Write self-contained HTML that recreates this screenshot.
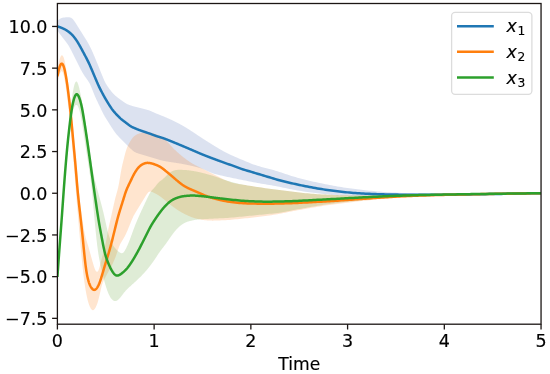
<!DOCTYPE html>
<html><head><meta charset="utf-8"><title>Time plot</title>
<style>
html,body{margin:0;padding:0;background:#fff;}
body{width:550px;height:374px;overflow:hidden;}
svg{display:block;}
.t{font-family:"DejaVu Sans","Liberation Sans",sans-serif;font-size:17.5px;fill:#000;stroke:#000;stroke-width:0.15px;}
.i{font-style:italic;}
.s{font-style:normal;font-size:12.25px;}
</style></head><body>
<svg width="550" height="374" viewBox="0 0 550 374">
<rect width="550" height="374" fill="#fff"/>
<defs><clipPath id="ax"><rect x="57.4" y="3.5" width="483.65" height="320.7"/></clipPath></defs>
<g clip-path="url(#ax)">
<path d="M57.40,21.07 L57.65,20.80 L57.90,20.55 L58.15,20.30 L58.40,20.06 L58.65,19.83 L58.90,19.62 L59.15,19.41 L59.40,19.22 L59.65,19.04 L59.90,18.87 L60.15,18.72 L60.40,18.57 L60.65,18.44 L60.90,18.32 L61.15,18.20 L61.40,18.10 L61.65,18.01 L61.90,17.93 L62.15,17.86 L62.40,17.79 L62.65,17.73 L62.90,17.68 L63.15,17.63 L63.40,17.59 L63.65,17.55 L63.90,17.51 L64.15,17.48 L64.40,17.45 L64.65,17.42 L64.90,17.40 L65.15,17.38 L65.40,17.35 L65.65,17.33 L65.90,17.31 L66.15,17.30 L66.40,17.28 L66.65,17.26 L66.90,17.25 L67.15,17.24 L67.40,17.23 L67.65,17.22 L67.90,17.22 L68.15,17.22 L68.40,17.23 L68.65,17.24 L68.90,17.25 L69.15,17.28 L69.40,17.31 L69.65,17.35 L69.90,17.40 L70.15,17.47 L70.40,17.54 L70.65,17.63 L70.90,17.73 L71.15,17.85 L71.40,17.99 L71.65,18.14 L71.90,18.32 L72.15,18.52 L72.40,18.74 L72.65,18.98 L72.90,19.24 L73.15,19.52 L73.40,19.81 L73.65,20.13 L73.90,20.46 L74.15,20.80 L74.40,21.16 L74.65,21.53 L74.90,21.90 L75.15,22.28 L75.40,22.67 L75.65,23.06 L75.90,23.45 L76.15,23.85 L76.40,24.24 L76.65,24.64 L76.90,25.04 L77.15,25.44 L77.40,25.84 L77.65,26.24 L77.90,26.64 L78.15,27.04 L78.40,27.44 L78.65,27.84 L78.90,28.24 L79.15,28.64 L79.40,29.04 L79.65,29.44 L79.90,29.84 L80.15,30.24 L80.40,30.63 L80.65,31.03 L80.90,31.43 L81.15,31.83 L81.40,32.22 L81.65,32.62 L81.90,33.02 L82.15,33.41 L82.40,33.81 L82.65,34.21 L82.90,34.60 L83.15,35.00 L83.40,35.39 L83.65,35.79 L83.90,36.19 L84.15,36.58 L84.40,36.98 L84.65,37.38 L84.90,37.78 L85.15,38.18 L85.40,38.58 L85.65,38.98 L85.90,39.38 L86.15,39.79 L86.40,40.20 L86.65,40.61 L86.90,41.03 L87.15,41.45 L87.40,41.87 L87.65,42.30 L87.90,42.74 L88.15,43.18 L88.40,43.62 L88.65,44.08 L88.90,44.53 L89.15,45.00 L89.40,45.47 L89.65,45.95 L89.90,46.44 L90.15,46.93 L90.40,47.43 L90.65,47.94 L90.90,48.46 L91.15,48.98 L91.40,49.51 L91.65,50.04 L91.90,50.59 L92.15,51.14 L92.40,51.70 L92.65,52.26 L92.90,52.83 L93.15,53.41 L93.40,53.99 L93.65,54.57 L93.90,55.16 L94.15,55.75 L94.40,56.34 L94.65,56.94 L94.90,57.54 L95.15,58.14 L95.40,58.75 L95.65,59.35 L95.90,59.96 L96.15,60.56 L96.40,61.17 L96.65,61.78 L96.90,62.39 L97.15,63.00 L97.40,63.61 L97.65,64.23 L97.90,64.84 L98.15,65.45 L98.40,66.07 L98.65,66.68 L98.90,67.30 L99.15,67.92 L99.40,68.53 L99.65,69.15 L99.90,69.77 L100.15,70.39 L100.40,71.01 L100.65,71.64 L100.90,72.26 L101.15,72.88 L101.40,73.51 L101.65,74.13 L101.90,74.76 L102.15,75.38 L102.40,76.00 L102.65,76.62 L102.90,77.23 L103.15,77.84 L103.40,78.43 L103.65,79.02 L103.90,79.60 L104.15,80.16 L104.40,80.71 L104.65,81.25 L104.90,81.76 L105.15,82.26 L105.40,82.75 L105.65,83.21 L105.90,83.66 L106.15,84.10 L106.40,84.52 L106.65,84.92 L106.90,85.32 L107.15,85.70 L107.40,86.08 L107.65,86.45 L107.90,86.81 L108.15,87.16 L108.40,87.51 L108.65,87.86 L108.90,88.20 L109.15,88.54 L109.40,88.88 L109.65,89.21 L109.90,89.54 L110.15,89.86 L110.40,90.19 L110.65,90.51 L110.90,90.83 L111.15,91.14 L111.40,91.45 L111.65,91.75 L111.90,92.05 L112.15,92.35 L112.40,92.64 L112.65,92.92 L112.90,93.20 L113.15,93.48 L113.40,93.75 L113.65,94.01 L113.90,94.27 L114.15,94.52 L114.40,94.77 L114.65,95.00 L114.90,95.24 L115.15,95.47 L115.40,95.69 L115.65,95.90 L115.90,96.12 L116.15,96.33 L116.40,96.53 L116.65,96.73 L116.90,96.93 L117.15,97.13 L117.40,97.33 L117.65,97.52 L117.90,97.71 L118.15,97.90 L118.40,98.09 L118.65,98.28 L118.90,98.47 L119.15,98.65 L119.40,98.84 L119.65,99.02 L119.90,99.20 L120.15,99.38 L120.40,99.57 L120.65,99.75 L120.90,99.93 L121.15,100.11 L121.40,100.29 L121.65,100.47 L121.90,100.65 L122.15,100.83 L122.40,101.00 L122.65,101.18 L122.90,101.36 L123.15,101.54 L123.40,101.71 L123.65,101.89 L123.90,102.06 L124.15,102.23 L124.40,102.40 L124.65,102.56 L124.90,102.73 L125.15,102.89 L125.40,103.04 L125.65,103.20 L125.90,103.34 L126.15,103.49 L126.40,103.63 L126.65,103.77 L126.90,103.90 L127.15,104.03 L127.40,104.15 L127.65,104.27 L127.90,104.39 L128.15,104.50 L128.40,104.61 L128.65,104.71 L128.90,104.82 L129.15,104.91 L129.40,105.01 L129.65,105.11 L129.90,105.20 L130.15,105.29 L130.40,105.37 L130.65,105.46 L130.90,105.54 L131.15,105.62 L131.40,105.70 L131.65,105.77 L131.90,105.85 L132.15,105.92 L132.40,106.00 L132.65,106.07 L132.90,106.14 L133.15,106.21 L133.40,106.27 L133.65,106.34 L133.90,106.41 L134.15,106.47 L134.40,106.54 L134.65,106.61 L134.90,106.67 L135.15,106.74 L135.40,106.80 L135.65,106.86 L135.90,106.93 L136.15,106.99 L136.40,107.05 L136.65,107.12 L136.90,107.18 L137.15,107.24 L137.40,107.30 L137.65,107.36 L137.90,107.43 L138.15,107.49 L138.40,107.55 L138.65,107.61 L138.90,107.67 L139.15,107.73 L139.40,107.80 L139.65,107.86 L139.90,107.92 L140.15,107.98 L140.40,108.04 L140.65,108.11 L140.90,108.17 L141.15,108.23 L141.40,108.29 L141.65,108.36 L141.90,108.42 L142.15,108.48 L142.40,108.55 L142.65,108.61 L142.90,108.68 L143.15,108.74 L143.40,108.81 L143.65,108.87 L143.90,108.94 L144.15,109.00 L144.40,109.07 L144.65,109.13 L144.90,109.20 L145.15,109.26 L145.40,109.33 L145.65,109.40 L145.90,109.47 L146.15,109.53 L146.40,109.60 L146.65,109.67 L146.90,109.74 L147.15,109.82 L147.40,109.89 L147.65,109.96 L147.90,110.04 L148.15,110.11 L148.40,110.19 L148.65,110.27 L148.90,110.35 L149.15,110.44 L149.40,110.52 L149.65,110.61 L149.90,110.70 L150.15,110.80 L150.40,110.89 L150.65,110.99 L150.90,111.10 L151.15,111.20 L151.40,111.31 L151.65,111.42 L151.90,111.54 L152.15,111.65 L152.40,111.77 L152.65,111.89 L152.90,112.01 L153.15,112.12 L153.40,112.24 L153.65,112.36 L153.90,112.48 L154.15,112.59 L154.40,112.71 L154.65,112.82 L154.90,112.93 L155.15,113.04 L155.40,113.15 L155.65,113.26 L155.90,113.36 L156.15,113.47 L156.40,113.57 L156.65,113.67 L156.90,113.77 L157.15,113.87 L157.40,113.97 L157.65,114.07 L157.90,114.17 L158.15,114.27 L158.40,114.37 L158.65,114.47 L158.90,114.56 L159.15,114.66 L159.40,114.76 L159.65,114.86 L159.90,114.95 L160.15,115.05 L160.40,115.15 L160.65,115.25 L160.90,115.34 L161.15,115.44 L161.40,115.54 L161.65,115.64 L161.90,115.74 L162.15,115.84 L162.40,115.94 L162.65,116.04 L162.90,116.14 L163.15,116.24 L163.40,116.34 L163.65,116.44 L163.90,116.55 L164.15,116.65 L164.40,116.75 L164.65,116.86 L164.90,116.96 L165.15,117.07 L165.40,117.18 L165.65,117.28 L165.90,117.39 L166.15,117.50 L166.40,117.61 L166.65,117.72 L166.90,117.83 L167.15,117.94 L167.40,118.05 L167.65,118.16 L167.90,118.27 L168.15,118.38 L168.40,118.49 L168.65,118.60 L168.90,118.71 L169.15,118.82 L169.40,118.94 L169.65,119.05 L169.90,119.16 L170.15,119.28 L170.40,119.39 L170.65,119.51 L170.90,119.62 L171.15,119.74 L171.40,119.85 L171.65,119.97 L171.90,120.09 L172.15,120.21 L172.40,120.32 L172.65,120.44 L172.90,120.56 L173.15,120.68 L173.40,120.80 L173.65,120.92 L173.90,121.04 L174.15,121.16 L174.40,121.28 L174.65,121.41 L174.90,121.53 L175.15,121.65 L175.40,121.78 L175.65,121.90 L175.90,122.02 L176.15,122.15 L176.40,122.28 L176.65,122.40 L176.90,122.53 L177.15,122.66 L177.40,122.79 L177.65,122.92 L177.90,123.05 L178.15,123.18 L178.40,123.31 L178.65,123.44 L178.90,123.57 L179.15,123.70 L179.40,123.84 L179.65,123.97 L179.90,124.11 L180.15,124.24 L180.40,124.38 L180.65,124.51 L180.90,124.65 L181.15,124.79 L181.40,124.93 L181.65,125.07 L181.90,125.21 L182.15,125.35 L182.40,125.49 L182.65,125.63 L182.90,125.78 L183.15,125.92 L183.40,126.06 L183.65,126.21 L183.90,126.36 L184.15,126.50 L184.40,126.65 L184.65,126.80 L184.90,126.95 L185.15,127.10 L185.40,127.25 L185.65,127.40 L185.90,127.55 L186.15,127.71 L186.40,127.86 L186.65,128.01 L186.90,128.17 L187.15,128.32 L187.40,128.48 L187.65,128.64 L187.90,128.79 L188.15,128.95 L188.40,129.11 L188.65,129.27 L188.90,129.43 L189.15,129.59 L189.40,129.75 L189.65,129.91 L189.90,130.07 L190.15,130.23 L190.40,130.40 L190.65,130.56 L190.90,130.72 L191.15,130.89 L191.40,131.05 L191.65,131.21 L191.90,131.38 L192.15,131.54 L192.40,131.71 L192.65,131.87 L192.90,132.04 L193.15,132.21 L193.40,132.37 L193.65,132.54 L193.90,132.70 L194.15,132.87 L194.40,133.04 L194.65,133.20 L194.90,133.37 L195.15,133.54 L195.40,133.71 L195.65,133.87 L195.90,134.04 L196.15,134.21 L196.40,134.37 L196.65,134.54 L196.90,134.71 L197.15,134.88 L197.40,135.04 L197.65,135.21 L197.90,135.38 L198.15,135.54 L198.40,135.71 L198.65,135.88 L198.90,136.04 L199.15,136.21 L199.40,136.37 L199.65,136.54 L199.90,136.70 L200.15,136.87 L200.40,137.03 L200.65,137.20 L200.90,137.36 L201.15,137.53 L201.40,137.69 L201.65,137.85 L201.90,138.02 L202.15,138.18 L202.40,138.34 L202.65,138.50 L202.90,138.66 L203.15,138.82 L203.40,138.98 L203.65,139.14 L203.90,139.30 L204.15,139.46 L204.40,139.62 L204.65,139.78 L204.90,139.93 L205.15,140.09 L205.40,140.25 L205.65,140.41 L205.90,140.56 L206.15,140.72 L206.40,140.88 L206.65,141.03 L206.90,141.19 L207.15,141.35 L207.40,141.51 L207.65,141.66 L207.90,141.82 L208.15,141.98 L208.40,142.13 L208.65,142.29 L208.90,142.45 L209.15,142.61 L209.40,142.76 L209.65,142.92 L209.90,143.08 L210.15,143.23 L210.40,143.39 L210.65,143.55 L210.90,143.70 L211.15,143.86 L211.40,144.02 L211.65,144.17 L211.90,144.33 L212.15,144.48 L212.40,144.64 L212.65,144.80 L212.90,144.95 L213.15,145.11 L213.40,145.26 L213.65,145.42 L213.90,145.57 L214.15,145.72 L214.40,145.88 L214.65,146.03 L214.90,146.19 L215.15,146.34 L215.40,146.49 L215.65,146.64 L215.90,146.80 L216.15,146.95 L216.40,147.10 L216.65,147.25 L216.90,147.40 L217.15,147.55 L217.40,147.70 L217.65,147.85 L217.90,148.00 L218.15,148.15 L218.40,148.29 L218.65,148.44 L218.90,148.59 L219.15,148.73 L219.40,148.88 L219.65,149.03 L219.90,149.17 L221.40,150.03 L223.40,151.14 L225.40,152.20 L227.40,153.22 L229.40,154.19 L231.40,155.13 L233.40,156.04 L235.40,156.93 L237.40,157.79 L239.40,158.64 L241.40,159.49 L243.40,160.33 L245.40,161.17 L247.40,162.02 L249.40,162.85 L251.40,163.66 L253.40,164.42 L255.40,165.12 L257.40,165.76 L259.40,166.35 L261.40,166.90 L263.40,167.42 L265.40,167.93 L267.40,168.43 L269.40,168.94 L271.40,169.47 L273.40,170.03 L275.40,170.63 L277.40,171.26 L279.40,171.91 L281.40,172.58 L283.40,173.25 L285.40,173.93 L287.40,174.60 L289.40,175.26 L291.40,175.91 L293.40,176.52 L295.40,177.11 L297.40,177.67 L299.40,178.22 L301.40,178.75 L303.40,179.26 L305.40,179.77 L307.40,180.25 L309.40,180.73 L311.40,181.19 L313.40,181.64 L315.40,182.09 L317.40,182.52 L319.40,182.95 L321.40,183.37 L323.40,183.79 L325.40,184.19 L327.40,184.59 L329.40,184.97 L331.40,185.35 L333.40,185.71 L335.40,186.07 L337.40,186.41 L339.40,186.74 L341.40,187.06 L343.40,187.38 L345.40,187.68 L347.40,187.97 L349.40,188.25 L351.40,188.53 L353.40,188.79 L355.40,189.05 L357.40,189.30 L359.40,189.54 L361.40,189.78 L363.40,190.02 L365.40,190.24 L367.40,190.46 L369.40,190.67 L371.40,190.87 L373.40,191.07 L375.40,191.25 L377.40,191.43 L379.40,191.59 L381.40,191.75 L383.40,191.89 L385.40,192.02 L387.40,192.15 L389.40,192.27 L391.40,192.39 L393.40,192.50 L395.40,192.60 L397.40,192.70 L399.40,192.80 L401.40,192.89 L403.40,192.97 L405.40,193.05 L407.40,193.13 L409.40,193.20 L411.40,193.27 L413.40,193.33 L415.40,193.39 L417.40,193.44 L419.40,193.49 L421.40,193.53 L423.40,193.58 L425.40,193.62 L427.40,193.67 L429.40,193.71 L431.40,193.75 L433.40,193.80 L435.40,193.84 L437.40,193.87 L439.40,193.91 L441.40,193.94 L443.40,193.97 L445.40,193.99 L447.40,194.01 L449.40,194.03 L451.40,194.04 L453.40,194.04 L455.40,194.03 L457.40,194.02 L459.40,194.01 L461.40,193.98 L463.40,193.96 L465.40,193.93 L467.40,193.91 L469.40,193.88 L471.40,193.86 L473.40,193.83 L475.40,193.81 L477.40,193.78 L479.40,193.76 L481.40,193.73 L483.40,193.71 L485.40,193.68 L487.40,193.66 L489.40,193.63 L491.40,193.61 L493.40,193.58 L495.40,193.56 L497.40,193.53 L499.40,193.51 L501.40,193.48 L503.40,193.46 L505.40,193.43 L507.40,193.41 L509.40,193.39 L511.40,193.36 L513.40,193.34 L515.40,193.31 L517.40,193.29 L519.40,193.26 L521.40,193.24 L523.40,193.21 L525.40,193.19 L527.40,193.17 L529.40,193.14 L531.40,193.12 L533.40,193.09 L535.40,193.07 L537.40,193.04 L539.40,193.02 L541.05,193.00 L541.05,193.40 L539.40,193.43 L537.40,193.48 L535.40,193.52 L533.40,193.56 L531.40,193.60 L529.40,193.64 L527.40,193.69 L525.40,193.73 L523.40,193.77 L521.40,193.82 L519.40,193.86 L517.40,193.91 L515.40,193.95 L513.40,194.00 L511.40,194.04 L509.40,194.09 L507.40,194.13 L505.40,194.18 L503.40,194.22 L501.40,194.27 L499.40,194.31 L497.40,194.36 L495.40,194.41 L493.40,194.46 L491.40,194.51 L489.40,194.56 L487.40,194.61 L485.40,194.66 L483.40,194.72 L481.40,194.77 L479.40,194.82 L477.40,194.88 L475.40,194.93 L473.40,194.98 L471.40,195.03 L469.40,195.08 L467.40,195.13 L465.40,195.18 L463.40,195.22 L461.40,195.27 L459.40,195.31 L457.40,195.35 L455.40,195.39 L453.40,195.43 L451.40,195.47 L449.40,195.51 L447.40,195.54 L445.40,195.58 L443.40,195.61 L441.40,195.65 L439.40,195.68 L437.40,195.72 L435.40,195.75 L433.40,195.78 L431.40,195.81 L429.40,195.85 L427.40,195.88 L425.40,195.91 L423.40,195.94 L421.40,195.98 L419.40,196.01 L417.40,196.04 L415.40,196.08 L413.40,196.11 L411.40,196.14 L409.40,196.17 L407.40,196.20 L405.40,196.23 L403.40,196.26 L401.40,196.29 L399.40,196.32 L397.40,196.34 L395.40,196.37 L393.40,196.40 L391.40,196.42 L389.40,196.45 L387.40,196.47 L385.40,196.49 L383.40,196.51 L381.40,196.52 L379.40,196.52 L377.40,196.51 L375.40,196.49 L373.40,196.46 L371.40,196.43 L369.40,196.39 L367.40,196.35 L365.40,196.30 L363.40,196.24 L361.40,196.19 L359.40,196.13 L357.40,196.07 L355.40,196.01 L353.40,195.95 L351.40,195.88 L349.40,195.80 L347.40,195.71 L345.40,195.62 L343.40,195.52 L341.40,195.41 L339.40,195.29 L337.40,195.16 L335.40,195.03 L333.40,194.88 L331.40,194.72 L329.40,194.55 L327.40,194.37 L325.40,194.18 L323.40,193.97 L321.40,193.75 L319.40,193.53 L317.40,193.29 L315.40,193.05 L313.40,192.80 L311.40,192.54 L309.40,192.27 L307.40,191.99 L305.40,191.70 L303.40,191.40 L301.40,191.09 L299.40,190.77 L297.40,190.43 L295.40,190.07 L293.40,189.70 L291.40,189.31 L289.40,188.91 L287.40,188.50 L285.40,188.08 L283.40,187.67 L281.40,187.26 L279.40,186.85 L277.40,186.46 L275.40,186.08 L273.40,185.71 L271.40,185.36 L269.40,185.01 L267.40,184.67 L265.40,184.33 L263.40,183.99 L261.40,183.64 L259.40,183.30 L257.40,182.94 L255.40,182.57 L253.40,182.20 L251.40,181.81 L249.40,181.42 L247.40,181.02 L245.40,180.62 L243.40,180.21 L241.40,179.81 L239.40,179.40 L237.40,178.99 L235.40,178.58 L233.40,178.17 L231.40,177.75 L229.40,177.33 L227.40,176.90 L225.40,176.46 L223.40,176.00 L221.40,175.54 L219.90,175.19 L219.65,175.13 L219.40,175.07 L219.15,175.01 L218.90,174.95 L218.65,174.89 L218.40,174.83 L218.15,174.77 L217.90,174.71 L217.65,174.65 L217.40,174.59 L217.15,174.53 L216.90,174.47 L216.65,174.41 L216.40,174.34 L216.15,174.28 L215.90,174.22 L215.65,174.15 L215.40,174.09 L215.15,174.02 L214.90,173.95 L214.65,173.88 L214.40,173.81 L214.15,173.74 L213.90,173.66 L213.65,173.58 L213.40,173.50 L213.15,173.42 L212.90,173.33 L212.65,173.25 L212.40,173.16 L212.15,173.06 L211.90,172.97 L211.65,172.87 L211.40,172.77 L211.15,172.67 L210.90,172.57 L210.65,172.47 L210.40,172.36 L210.15,172.25 L209.90,172.15 L209.65,172.04 L209.40,171.93 L209.15,171.81 L208.90,171.70 L208.65,171.59 L208.40,171.47 L208.15,171.36 L207.90,171.25 L207.65,171.13 L207.40,171.01 L207.15,170.90 L206.90,170.78 L206.65,170.67 L206.40,170.55 L206.15,170.44 L205.90,170.32 L205.65,170.21 L205.40,170.10 L205.15,169.99 L204.90,169.87 L204.65,169.76 L204.40,169.65 L204.15,169.55 L203.90,169.44 L203.65,169.34 L203.40,169.23 L203.15,169.13 L202.90,169.03 L202.65,168.93 L202.40,168.84 L202.15,168.74 L201.90,168.65 L201.65,168.56 L201.40,168.47 L201.15,168.39 L200.90,168.30 L200.65,168.22 L200.40,168.14 L200.15,168.06 L199.90,167.99 L199.65,167.91 L199.40,167.84 L199.15,167.77 L198.90,167.70 L198.65,167.63 L198.40,167.56 L198.15,167.49 L197.90,167.42 L197.65,167.36 L197.40,167.29 L197.15,167.22 L196.90,167.16 L196.65,167.09 L196.40,167.02 L196.15,166.96 L195.90,166.90 L195.65,166.83 L195.40,166.77 L195.15,166.70 L194.90,166.64 L194.65,166.58 L194.40,166.52 L194.15,166.46 L193.90,166.39 L193.65,166.33 L193.40,166.27 L193.15,166.21 L192.90,166.16 L192.65,166.10 L192.40,166.04 L192.15,165.98 L191.90,165.92 L191.65,165.87 L191.40,165.81 L191.15,165.76 L190.90,165.70 L190.65,165.64 L190.40,165.59 L190.15,165.54 L189.90,165.48 L189.65,165.43 L189.40,165.37 L189.15,165.32 L188.90,165.27 L188.65,165.21 L188.40,165.16 L188.15,165.11 L187.90,165.06 L187.65,165.00 L187.40,164.95 L187.15,164.90 L186.90,164.85 L186.65,164.79 L186.40,164.74 L186.15,164.69 L185.90,164.64 L185.65,164.59 L185.40,164.54 L185.15,164.49 L184.90,164.44 L184.65,164.39 L184.40,164.33 L184.15,164.29 L183.90,164.24 L183.65,164.19 L183.40,164.14 L183.15,164.09 L182.90,164.04 L182.65,163.99 L182.40,163.94 L182.15,163.90 L181.90,163.85 L181.65,163.80 L181.40,163.76 L181.15,163.71 L180.90,163.67 L180.65,163.62 L180.40,163.58 L180.15,163.53 L179.90,163.49 L179.65,163.45 L179.40,163.40 L179.15,163.36 L178.90,163.32 L178.65,163.28 L178.40,163.24 L178.15,163.20 L177.90,163.16 L177.65,163.13 L177.40,163.09 L177.15,163.05 L176.90,163.01 L176.65,162.98 L176.40,162.94 L176.15,162.90 L175.90,162.87 L175.65,162.83 L175.40,162.80 L175.15,162.76 L174.90,162.73 L174.65,162.69 L174.40,162.66 L174.15,162.62 L173.90,162.58 L173.65,162.55 L173.40,162.51 L173.15,162.48 L172.90,162.44 L172.65,162.40 L172.40,162.37 L172.15,162.33 L171.90,162.29 L171.65,162.26 L171.40,162.22 L171.15,162.18 L170.90,162.14 L170.65,162.10 L170.40,162.06 L170.15,162.02 L169.90,161.98 L169.65,161.94 L169.40,161.90 L169.15,161.86 L168.90,161.82 L168.65,161.78 L168.40,161.74 L168.15,161.70 L167.90,161.66 L167.65,161.62 L167.40,161.57 L167.15,161.53 L166.90,161.49 L166.65,161.45 L166.40,161.41 L166.15,161.36 L165.90,161.32 L165.65,161.28 L165.40,161.23 L165.15,161.18 L164.90,161.14 L164.65,161.09 L164.40,161.04 L164.15,160.99 L163.90,160.94 L163.65,160.89 L163.40,160.84 L163.15,160.79 L162.90,160.73 L162.65,160.67 L162.40,160.62 L162.15,160.56 L161.90,160.50 L161.65,160.43 L161.40,160.37 L161.15,160.31 L160.90,160.24 L160.65,160.17 L160.40,160.10 L160.15,160.03 L159.90,159.96 L159.65,159.89 L159.40,159.82 L159.15,159.74 L158.90,159.67 L158.65,159.59 L158.40,159.52 L158.15,159.44 L157.90,159.37 L157.65,159.29 L157.40,159.22 L157.15,159.14 L156.90,159.07 L156.65,158.99 L156.40,158.92 L156.15,158.84 L155.90,158.77 L155.65,158.69 L155.40,158.62 L155.15,158.55 L154.90,158.47 L154.65,158.40 L154.40,158.32 L154.15,158.25 L153.90,158.17 L153.65,158.10 L153.40,158.02 L153.15,157.94 L152.90,157.87 L152.65,157.80 L152.40,157.72 L152.15,157.65 L151.90,157.57 L151.65,157.50 L151.40,157.42 L151.15,157.35 L150.90,157.27 L150.65,157.19 L150.40,157.12 L150.15,157.05 L149.90,156.97 L149.65,156.90 L149.40,156.82 L149.15,156.75 L148.90,156.67 L148.65,156.60 L148.40,156.52 L148.15,156.45 L147.90,156.37 L147.65,156.30 L147.40,156.22 L147.15,156.15 L146.90,156.07 L146.65,156.00 L146.40,155.92 L146.15,155.85 L145.90,155.77 L145.65,155.69 L145.40,155.62 L145.15,155.55 L144.90,155.47 L144.65,155.40 L144.40,155.32 L144.15,155.25 L143.90,155.17 L143.65,155.10 L143.40,155.02 L143.15,154.95 L142.90,154.87 L142.65,154.80 L142.40,154.72 L142.15,154.65 L141.90,154.57 L141.65,154.50 L141.40,154.42 L141.15,154.35 L140.90,154.27 L140.65,154.20 L140.40,154.12 L140.15,154.05 L139.90,153.97 L139.65,153.90 L139.40,153.82 L139.15,153.75 L138.90,153.67 L138.65,153.60 L138.40,153.52 L138.15,153.44 L137.90,153.36 L137.65,153.27 L137.40,153.19 L137.15,153.10 L136.90,153.01 L136.65,152.91 L136.40,152.81 L136.15,152.70 L135.90,152.59 L135.65,152.48 L135.40,152.35 L135.15,152.22 L134.90,152.09 L134.65,151.95 L134.40,151.79 L134.15,151.64 L133.90,151.47 L133.65,151.29 L133.40,151.11 L133.15,150.92 L132.90,150.72 L132.65,150.51 L132.40,150.29 L132.15,150.07 L131.90,149.84 L131.65,149.61 L131.40,149.37 L131.15,149.13 L130.90,148.89 L130.65,148.64 L130.40,148.40 L130.15,148.15 L129.90,147.90 L129.65,147.65 L129.40,147.40 L129.15,147.15 L128.90,146.90 L128.65,146.65 L128.40,146.40 L128.15,146.15 L127.90,145.90 L127.65,145.65 L127.40,145.40 L127.15,145.15 L126.90,144.90 L126.65,144.65 L126.40,144.40 L126.15,144.15 L125.90,143.90 L125.65,143.65 L125.40,143.40 L125.15,143.15 L124.90,142.90 L124.65,142.65 L124.40,142.40 L124.15,142.15 L123.90,141.90 L123.65,141.65 L123.40,141.40 L123.15,141.15 L122.90,140.90 L122.65,140.65 L122.40,140.40 L122.15,140.15 L121.90,139.90 L121.65,139.65 L121.40,139.40 L121.15,139.15 L120.90,138.90 L120.65,138.65 L120.40,138.40 L120.15,138.15 L119.90,137.90 L119.65,137.65 L119.40,137.39 L119.15,137.14 L118.90,136.89 L118.65,136.63 L118.40,136.37 L118.15,136.11 L117.90,135.84 L117.65,135.57 L117.40,135.30 L117.15,135.02 L116.90,134.73 L116.65,134.44 L116.40,134.14 L116.15,133.83 L115.90,133.52 L115.65,133.20 L115.40,132.87 L115.15,132.54 L114.90,132.20 L114.65,131.86 L114.40,131.51 L114.15,131.16 L113.90,130.80 L113.65,130.44 L113.40,130.08 L113.15,129.71 L112.90,129.34 L112.65,128.96 L112.40,128.58 L112.15,128.20 L111.90,127.81 L111.65,127.43 L111.40,127.04 L111.15,126.64 L110.90,126.25 L110.65,125.85 L110.40,125.46 L110.15,125.06 L109.90,124.66 L109.65,124.25 L109.40,123.85 L109.15,123.45 L108.90,123.05 L108.65,122.65 L108.40,122.25 L108.15,121.85 L107.90,121.46 L107.65,121.06 L107.40,120.67 L107.15,120.28 L106.90,119.89 L106.65,119.50 L106.40,119.11 L106.15,118.72 L105.90,118.33 L105.65,117.92 L105.40,117.52 L105.15,117.10 L104.90,116.68 L104.65,116.24 L104.40,115.80 L104.15,115.34 L103.90,114.88 L103.65,114.41 L103.40,113.93 L103.15,113.44 L102.90,112.95 L102.65,112.45 L102.40,111.94 L102.15,111.44 L101.90,110.93 L101.65,110.41 L101.40,109.90 L101.15,109.38 L100.90,108.87 L100.65,108.35 L100.40,107.83 L100.15,107.31 L99.90,106.79 L99.65,106.28 L99.40,105.76 L99.15,105.24 L98.90,104.72 L98.65,104.20 L98.40,103.67 L98.15,103.15 L97.90,102.63 L97.65,102.10 L97.40,101.58 L97.15,101.05 L96.90,100.52 L96.65,99.99 L96.40,99.45 L96.15,98.92 L95.90,98.37 L95.65,97.82 L95.40,97.27 L95.15,96.70 L94.90,96.13 L94.65,95.55 L94.40,94.96 L94.15,94.35 L93.90,93.74 L93.65,93.11 L93.40,92.48 L93.15,91.84 L92.90,91.20 L92.65,90.55 L92.40,89.91 L92.15,89.26 L91.90,88.63 L91.65,88.00 L91.40,87.39 L91.15,86.79 L90.90,86.21 L90.65,85.64 L90.40,85.10 L90.15,84.57 L89.90,84.06 L89.65,83.57 L89.40,83.10 L89.15,82.65 L88.90,82.22 L88.65,81.80 L88.40,81.39 L88.15,81.00 L87.90,80.62 L87.65,80.25 L87.40,79.88 L87.15,79.53 L86.90,79.17 L86.65,78.83 L86.40,78.48 L86.15,78.14 L85.90,77.79 L85.65,77.45 L85.40,77.10 L85.15,76.74 L84.90,76.38 L84.65,76.02 L84.40,75.65 L84.15,75.27 L83.90,74.88 L83.65,74.48 L83.40,74.08 L83.15,73.67 L82.90,73.25 L82.65,72.82 L82.40,72.38 L82.15,71.95 L81.90,71.50 L81.65,71.05 L81.40,70.59 L81.15,70.13 L80.90,69.67 L80.65,69.19 L80.40,68.72 L80.15,68.24 L79.90,67.76 L79.65,67.27 L79.40,66.78 L79.15,66.29 L78.90,65.79 L78.65,65.29 L78.40,64.80 L78.15,64.30 L77.90,63.80 L77.65,63.30 L77.40,62.80 L77.15,62.30 L76.90,61.80 L76.65,61.30 L76.40,60.80 L76.15,60.30 L75.90,59.80 L75.65,59.30 L75.40,58.80 L75.15,58.30 L74.90,57.80 L74.65,57.30 L74.40,56.80 L74.15,56.30 L73.90,55.80 L73.65,55.30 L73.40,54.80 L73.15,54.30 L72.90,53.80 L72.65,53.30 L72.40,52.80 L72.15,52.30 L71.90,51.80 L71.65,51.31 L71.40,50.81 L71.15,50.32 L70.90,49.83 L70.65,49.34 L70.40,48.86 L70.15,48.39 L69.90,47.92 L69.65,47.46 L69.40,47.01 L69.15,46.58 L68.90,46.15 L68.65,45.74 L68.40,45.33 L68.15,44.94 L67.90,44.56 L67.65,44.19 L67.40,43.83 L67.15,43.48 L66.90,43.13 L66.65,42.79 L66.40,42.46 L66.15,42.13 L65.90,41.80 L65.65,41.48 L65.40,41.15 L65.15,40.83 L64.90,40.51 L64.65,40.19 L64.40,39.87 L64.15,39.55 L63.90,39.23 L63.65,38.91 L63.40,38.59 L63.15,38.27 L62.90,37.95 L62.65,37.63 L62.40,37.31 L62.15,36.98 L61.90,36.66 L61.65,36.33 L61.40,36.00 L61.15,35.67 L60.90,35.34 L60.65,35.00 L60.40,34.67 L60.15,34.33 L59.90,33.99 L59.65,33.64 L59.40,33.30 L59.15,32.95 L58.90,32.61 L58.65,32.26 L58.40,31.91 L58.15,31.55 L57.90,31.20 L57.65,30.85 L57.40,30.49 Z" fill="#5070b2" fill-opacity="0.2"/>
<path d="M57.40,69.45 L57.65,68.05 L57.90,66.70 L58.15,65.41 L58.40,64.17 L58.65,63.01 L58.90,61.92 L59.15,60.91 L59.40,59.97 L59.65,59.12 L59.90,58.35 L60.15,57.67 L60.40,57.07 L60.65,56.56 L60.90,56.13 L61.15,55.79 L61.40,55.53 L61.65,55.37 L61.90,55.30 L62.15,55.32 L62.40,55.44 L62.65,55.65 L62.90,55.97 L63.15,56.40 L63.40,56.92 L63.65,57.56 L63.90,58.29 L64.15,59.13 L64.40,60.07 L64.65,61.11 L64.90,62.24 L65.15,63.45 L65.40,64.74 L65.65,66.11 L65.90,67.54 L66.15,69.04 L66.40,70.60 L66.65,72.21 L66.90,73.87 L67.15,75.58 L67.40,77.33 L67.65,79.11 L67.90,80.93 L68.15,82.79 L68.40,84.67 L68.65,86.59 L68.90,88.53 L69.15,90.51 L69.40,92.52 L69.65,94.56 L69.90,96.64 L70.15,98.75 L70.40,100.91 L70.65,103.11 L70.90,105.37 L71.15,107.68 L71.40,110.05 L71.65,112.48 L71.90,114.97 L72.15,117.52 L72.40,120.14 L72.65,122.80 L72.90,125.51 L73.15,128.25 L73.40,131.01 L73.65,133.78 L73.90,136.54 L74.15,139.28 L74.40,142.01 L74.65,144.71 L74.90,147.39 L75.15,150.06 L75.40,152.75 L75.65,155.45 L75.90,158.18 L76.15,160.96 L76.40,163.79 L76.65,166.66 L76.90,169.56 L77.15,172.47 L77.40,175.37 L77.65,178.24 L77.90,181.04 L78.15,183.77 L78.40,186.41 L78.65,188.95 L78.90,191.39 L79.15,193.74 L79.40,196.01 L79.65,198.21 L79.90,200.34 L80.15,202.42 L80.40,204.45 L80.65,206.45 L80.90,208.42 L81.15,210.35 L81.40,212.26 L81.65,214.14 L81.90,215.99 L82.15,217.81 L82.40,219.60 L82.65,221.35 L82.90,223.05 L83.15,224.71 L83.40,226.32 L83.65,227.86 L83.90,229.33 L84.15,230.74 L84.40,232.06 L84.65,233.32 L84.90,234.49 L85.15,235.59 L85.40,236.62 L85.65,237.58 L85.90,238.49 L86.15,239.36 L86.40,240.19 L86.65,241.00 L86.90,241.80 L87.15,242.59 L87.40,243.38 L87.65,244.19 L87.90,245.01 L88.15,245.84 L88.40,246.69 L88.65,247.56 L88.90,248.44 L89.15,249.34 L89.40,250.24 L89.65,251.16 L89.90,252.07 L90.15,252.99 L90.40,253.91 L90.65,254.83 L90.90,255.75 L91.15,256.66 L91.40,257.57 L91.65,258.47 L91.90,259.36 L92.15,260.25 L92.40,261.13 L92.65,262.01 L92.90,262.87 L93.15,263.72 L93.40,264.56 L93.65,265.38 L93.90,266.17 L94.15,266.94 L94.40,267.68 L94.65,268.38 L94.90,269.03 L95.15,269.63 L95.40,270.17 L95.65,270.64 L95.90,271.04 L96.15,271.37 L96.40,271.61 L96.65,271.78 L96.90,271.86 L97.15,271.85 L97.40,271.75 L97.65,271.56 L97.90,271.27 L98.15,270.88 L98.40,270.40 L98.65,269.83 L98.90,269.17 L99.15,268.42 L99.40,267.60 L99.65,266.72 L99.90,265.79 L100.15,264.82 L100.40,263.83 L100.65,262.82 L100.90,261.81 L101.15,260.80 L101.40,259.81 L101.65,258.83 L101.90,257.88 L102.15,256.94 L102.40,256.03 L102.65,255.13 L102.90,254.24 L103.15,253.36 L103.40,252.48 L103.65,251.59 L103.90,250.69 L104.15,249.76 L104.40,248.80 L104.65,247.80 L104.90,246.75 L105.15,245.65 L105.40,244.50 L105.65,243.29 L105.90,242.04 L106.15,240.73 L106.40,239.39 L106.65,238.03 L106.90,236.65 L107.15,235.27 L107.40,233.91 L107.65,232.57 L107.90,231.25 L108.15,229.98 L108.40,228.74 L108.65,227.53 L108.90,226.36 L109.15,225.21 L109.40,224.09 L109.65,222.98 L109.90,221.89 L110.15,220.80 L110.40,219.71 L110.65,218.62 L110.90,217.53 L111.15,216.44 L111.40,215.33 L111.65,214.23 L111.90,213.11 L112.15,211.99 L112.40,210.87 L112.65,209.74 L112.90,208.61 L113.15,207.48 L113.40,206.35 L113.65,205.23 L113.90,204.11 L114.15,203.01 L114.40,201.92 L114.65,200.85 L114.90,199.80 L115.15,198.78 L115.40,197.79 L115.65,196.82 L115.90,195.88 L116.15,194.96 L116.40,194.06 L116.65,193.17 L116.90,192.28 L117.15,191.38 L117.40,190.46 L117.65,189.51 L117.90,188.51 L118.15,187.45 L118.40,186.32 L118.65,185.12 L118.90,183.83 L119.15,182.47 L119.40,181.04 L119.65,179.56 L119.90,178.04 L120.15,176.51 L120.40,174.99 L120.65,173.50 L120.90,172.06 L121.15,170.67 L121.40,169.34 L121.65,168.08 L121.90,166.87 L122.15,165.72 L122.40,164.61 L122.65,163.53 L122.90,162.48 L123.15,161.45 L123.40,160.43 L123.65,159.42 L123.90,158.42 L124.15,157.43 L124.40,156.45 L124.65,155.48 L124.90,154.53 L125.15,153.59 L125.40,152.68 L125.65,151.80 L125.90,150.95 L126.15,150.15 L126.40,149.38 L126.65,148.66 L126.90,147.99 L127.15,147.36 L127.40,146.77 L127.65,146.21 L127.90,145.68 L128.15,145.17 L128.40,144.68 L128.65,144.21 L128.90,143.75 L129.15,143.29 L129.40,142.84 L129.65,142.40 L129.90,141.96 L130.15,141.53 L130.40,141.12 L130.65,140.71 L130.90,140.31 L131.15,139.92 L131.40,139.55 L131.65,139.19 L131.90,138.84 L132.15,138.50 L132.40,138.18 L132.65,137.87 L132.90,137.58 L133.15,137.29 L133.40,137.03 L133.65,136.77 L133.90,136.53 L134.15,136.30 L134.40,136.09 L134.65,135.88 L134.90,135.69 L135.15,135.51 L135.40,135.34 L135.65,135.17 L135.90,135.02 L136.15,134.87 L136.40,134.73 L136.65,134.60 L136.90,134.47 L137.15,134.35 L137.40,134.23 L137.65,134.12 L137.90,134.02 L138.15,133.92 L138.40,133.82 L138.65,133.73 L138.90,133.65 L139.15,133.57 L139.40,133.50 L139.65,133.43 L139.90,133.37 L140.15,133.30 L140.40,133.25 L140.65,133.19 L140.90,133.14 L141.15,133.09 L141.40,133.04 L141.65,132.99 L141.90,132.95 L142.15,132.91 L142.40,132.87 L142.65,132.83 L142.90,132.79 L143.15,132.76 L143.40,132.73 L143.65,132.69 L143.90,132.67 L144.15,132.64 L144.40,132.62 L144.65,132.60 L144.90,132.58 L145.15,132.56 L145.40,132.55 L145.65,132.54 L145.90,132.53 L146.15,132.53 L146.40,132.52 L146.65,132.52 L146.90,132.52 L147.15,132.53 L147.40,132.53 L147.65,132.54 L147.90,132.55 L148.15,132.57 L148.40,132.58 L148.65,132.60 L148.90,132.62 L149.15,132.64 L149.40,132.66 L149.65,132.68 L149.90,132.71 L150.15,132.74 L150.40,132.77 L150.65,132.81 L150.90,132.84 L151.15,132.88 L151.40,132.92 L151.65,132.97 L151.90,133.01 L152.15,133.06 L152.40,133.11 L152.65,133.17 L152.90,133.23 L153.15,133.29 L153.40,133.35 L153.65,133.42 L153.90,133.49 L154.15,133.56 L154.40,133.64 L154.65,133.72 L154.90,133.80 L155.15,133.88 L155.40,133.97 L155.65,134.06 L155.90,134.15 L156.15,134.25 L156.40,134.35 L156.65,134.45 L156.90,134.55 L157.15,134.65 L157.40,134.76 L157.65,134.87 L157.90,134.98 L158.15,135.10 L158.40,135.21 L158.65,135.33 L158.90,135.45 L159.15,135.58 L159.40,135.71 L159.65,135.84 L159.90,135.97 L160.15,136.11 L160.40,136.25 L160.65,136.39 L160.90,136.54 L161.15,136.69 L161.40,136.85 L161.65,137.01 L161.90,137.17 L162.15,137.34 L162.40,137.51 L162.65,137.68 L162.90,137.86 L163.15,138.05 L163.40,138.24 L163.65,138.43 L163.90,138.63 L164.15,138.83 L164.40,139.04 L164.65,139.25 L164.90,139.47 L165.15,139.69 L165.40,139.92 L165.65,140.15 L165.90,140.39 L166.15,140.63 L166.40,140.87 L166.65,141.12 L166.90,141.38 L167.15,141.63 L167.40,141.89 L167.65,142.15 L167.90,142.42 L168.15,142.69 L168.40,142.96 L168.65,143.23 L168.90,143.50 L169.15,143.78 L169.40,144.05 L169.65,144.33 L169.90,144.61 L170.15,144.89 L170.40,145.16 L170.65,145.44 L170.90,145.72 L171.15,145.99 L171.40,146.27 L171.65,146.54 L171.90,146.81 L172.15,147.08 L172.40,147.35 L172.65,147.62 L172.90,147.88 L173.15,148.14 L173.40,148.40 L173.65,148.65 L173.90,148.90 L174.15,149.15 L174.40,149.40 L174.65,149.64 L174.90,149.88 L175.15,150.11 L175.40,150.35 L175.65,150.58 L175.90,150.81 L176.15,151.04 L176.40,151.27 L176.65,151.50 L176.90,151.72 L177.15,151.95 L177.40,152.17 L177.65,152.40 L177.90,152.62 L178.15,152.84 L178.40,153.07 L178.65,153.29 L178.90,153.51 L179.15,153.73 L179.40,153.94 L179.65,154.16 L179.90,154.38 L180.15,154.59 L180.40,154.80 L180.65,155.02 L180.90,155.23 L181.15,155.44 L181.40,155.65 L181.65,155.85 L181.90,156.06 L182.15,156.26 L182.40,156.47 L182.65,156.67 L182.90,156.87 L183.15,157.07 L183.40,157.26 L183.65,157.46 L183.90,157.65 L184.15,157.84 L184.40,158.03 L184.65,158.22 L184.90,158.41 L185.15,158.60 L185.40,158.78 L185.65,158.97 L185.90,159.15 L186.15,159.33 L186.40,159.52 L186.65,159.70 L186.90,159.88 L187.15,160.06 L187.40,160.23 L187.65,160.41 L187.90,160.59 L188.15,160.76 L188.40,160.94 L188.65,161.11 L188.90,161.28 L189.15,161.46 L189.40,161.63 L189.65,161.79 L189.90,161.96 L190.15,162.13 L190.40,162.29 L190.65,162.45 L190.90,162.61 L191.15,162.77 L191.40,162.93 L191.65,163.09 L191.90,163.24 L192.15,163.39 L192.40,163.54 L192.65,163.69 L192.90,163.84 L193.15,163.98 L193.40,164.12 L193.65,164.26 L193.90,164.40 L194.15,164.54 L194.40,164.67 L194.65,164.80 L194.90,164.93 L195.15,165.06 L195.40,165.19 L195.65,165.32 L195.90,165.45 L196.15,165.57 L196.40,165.70 L196.65,165.82 L196.90,165.95 L197.15,166.07 L197.40,166.20 L197.65,166.32 L197.90,166.45 L198.15,166.57 L198.40,166.70 L198.65,166.82 L198.90,166.95 L199.15,167.07 L199.40,167.20 L199.65,167.32 L199.90,167.45 L200.15,167.57 L200.40,167.70 L200.65,167.82 L200.90,167.95 L201.15,168.07 L201.40,168.20 L201.65,168.32 L201.90,168.45 L202.15,168.58 L202.40,168.70 L202.65,168.83 L202.90,168.95 L203.15,169.07 L203.40,169.20 L203.65,169.32 L203.90,169.45 L204.15,169.57 L204.40,169.70 L204.65,169.82 L204.90,169.95 L205.15,170.08 L205.40,170.20 L205.65,170.32 L205.90,170.45 L206.15,170.58 L206.40,170.70 L206.65,170.82 L206.90,170.95 L207.15,171.07 L207.40,171.20 L207.65,171.33 L207.90,171.45 L208.15,171.57 L208.40,171.70 L208.65,171.82 L208.90,171.95 L209.15,172.08 L209.40,172.20 L209.65,172.32 L209.90,172.45 L210.15,172.57 L210.40,172.70 L210.65,172.83 L210.90,172.95 L211.15,173.07 L211.40,173.20 L211.65,173.33 L211.90,173.45 L212.15,173.57 L212.40,173.70 L212.65,173.82 L212.90,173.95 L213.15,174.07 L213.40,174.20 L213.65,174.32 L213.90,174.45 L214.15,174.58 L214.40,174.70 L214.65,174.82 L214.90,174.95 L215.15,175.07 L215.40,175.20 L215.65,175.32 L215.90,175.45 L216.15,175.57 L216.40,175.70 L216.65,175.82 L216.90,175.95 L217.15,176.07 L217.40,176.20 L217.65,176.32 L217.90,176.45 L218.15,176.58 L218.40,176.70 L218.65,176.83 L218.90,176.95 L219.15,177.07 L219.40,177.20 L219.65,177.32 L219.90,177.45 L221.40,178.20 L223.40,179.20 L225.40,180.18 L227.40,181.06 L229.40,181.82 L231.40,182.45 L233.40,182.98 L235.40,183.42 L237.40,183.81 L239.40,184.14 L241.40,184.45 L243.40,184.75 L245.40,185.06 L247.40,185.38 L249.40,185.70 L251.40,186.02 L253.40,186.33 L255.40,186.65 L257.40,186.96 L259.40,187.27 L261.40,187.57 L263.40,187.87 L265.40,188.17 L267.40,188.46 L269.40,188.74 L271.40,189.02 L273.40,189.29 L275.40,189.55 L277.40,189.81 L279.40,190.07 L281.40,190.33 L283.40,190.58 L285.40,190.83 L287.40,191.08 L289.40,191.33 L291.40,191.57 L293.40,191.81 L295.40,192.05 L297.40,192.28 L299.40,192.50 L301.40,192.72 L303.40,192.94 L305.40,193.14 L307.40,193.34 L309.40,193.53 L311.40,193.71 L313.40,193.87 L315.40,194.03 L317.40,194.17 L319.40,194.30 L321.40,194.42 L323.40,194.52 L325.40,194.62 L327.40,194.71 L329.40,194.80 L331.40,194.87 L333.40,194.94 L335.40,195.01 L337.40,195.08 L339.40,195.14 L341.40,195.20 L343.40,195.26 L345.40,195.32 L347.40,195.36 L349.40,195.41 L351.40,195.45 L353.40,195.48 L355.40,195.50 L357.40,195.53 L359.40,195.54 L361.40,195.56 L363.40,195.58 L365.40,195.59 L367.40,195.60 L369.40,195.60 L371.40,195.60 L373.40,195.60 L375.40,195.60 L377.40,195.59 L379.40,195.57 L381.40,195.55 L383.40,195.52 L385.40,195.49 L387.40,195.46 L389.40,195.42 L391.40,195.38 L393.40,195.34 L395.40,195.30 L397.40,195.25 L399.40,195.21 L401.40,195.17 L403.40,195.12 L405.40,195.08 L407.40,195.04 L409.40,194.99 L411.40,194.95 L413.40,194.91 L415.40,194.88 L417.40,194.84 L419.40,194.81 L421.40,194.78 L423.40,194.75 L425.40,194.72 L427.40,194.69 L429.40,194.66 L431.40,194.63 L433.40,194.60 L435.40,194.57 L437.40,194.54 L439.40,194.51 L441.40,194.48 L443.40,194.45 L445.40,194.42 L447.40,194.39 L449.40,194.36 L451.40,194.33 L453.40,194.30 L455.40,194.27 L457.40,194.24 L459.40,194.21 L461.40,194.18 L463.40,194.15 L465.40,194.12 L467.40,194.09 L469.40,194.06 L471.40,194.03 L473.40,194.00 L475.40,193.97 L477.40,193.94 L479.40,193.91 L481.40,193.88 L483.40,193.85 L485.40,193.82 L487.40,193.79 L489.40,193.76 L491.40,193.73 L493.40,193.70 L495.40,193.67 L497.40,193.64 L499.40,193.61 L501.40,193.58 L503.40,193.55 L505.40,193.52 L507.40,193.49 L509.40,193.46 L511.40,193.43 L513.40,193.40 L515.40,193.37 L517.40,193.34 L519.40,193.31 L521.40,193.28 L523.40,193.26 L525.40,193.23 L527.40,193.20 L529.40,193.17 L531.40,193.14 L533.40,193.11 L535.40,193.08 L537.40,193.05 L539.40,193.02 L541.05,193.00 L541.05,193.40 L539.40,193.42 L537.40,193.44 L535.40,193.46 L533.40,193.49 L531.40,193.51 L529.40,193.54 L527.40,193.57 L525.40,193.59 L523.40,193.62 L521.40,193.65 L519.40,193.68 L517.40,193.71 L515.40,193.74 L513.40,193.77 L511.40,193.81 L509.40,193.84 L507.40,193.87 L505.40,193.91 L503.40,193.94 L501.40,193.98 L499.40,194.01 L497.40,194.05 L495.40,194.09 L493.40,194.12 L491.40,194.16 L489.40,194.21 L487.40,194.25 L485.40,194.29 L483.40,194.34 L481.40,194.38 L479.40,194.43 L477.40,194.47 L475.40,194.52 L473.40,194.57 L471.40,194.62 L469.40,194.67 L467.40,194.72 L465.40,194.77 L463.40,194.81 L461.40,194.86 L459.40,194.92 L457.40,194.97 L455.40,195.02 L453.40,195.08 L451.40,195.14 L449.40,195.20 L447.40,195.26 L445.40,195.33 L443.40,195.40 L441.40,195.47 L439.40,195.54 L437.40,195.61 L435.40,195.68 L433.40,195.76 L431.40,195.84 L429.40,195.91 L427.40,195.99 L425.40,196.08 L423.40,196.16 L421.40,196.24 L419.40,196.33 L417.40,196.41 L415.40,196.51 L413.40,196.60 L411.40,196.71 L409.40,196.81 L407.40,196.92 L405.40,197.04 L403.40,197.17 L401.40,197.30 L399.40,197.43 L397.40,197.57 L395.40,197.72 L393.40,197.87 L391.40,198.04 L389.40,198.20 L387.40,198.38 L385.40,198.56 L383.40,198.75 L381.40,198.95 L379.40,199.15 L377.40,199.35 L375.40,199.55 L373.40,199.76 L371.40,199.97 L369.40,200.19 L367.40,200.41 L365.40,200.63 L363.40,200.85 L361.40,201.07 L359.40,201.30 L357.40,201.53 L355.40,201.75 L353.40,201.98 L351.40,202.21 L349.40,202.45 L347.40,202.68 L345.40,202.92 L343.40,203.15 L341.40,203.40 L339.40,203.64 L337.40,203.89 L335.40,204.15 L333.40,204.41 L331.40,204.68 L329.40,204.96 L327.40,205.24 L325.40,205.53 L323.40,205.84 L321.40,206.15 L319.40,206.47 L317.40,206.79 L315.40,207.13 L313.40,207.48 L311.40,207.83 L309.40,208.18 L307.40,208.54 L305.40,208.90 L303.40,209.26 L301.40,209.63 L299.40,209.99 L297.40,210.36 L295.40,210.73 L293.40,211.10 L291.40,211.48 L289.40,211.86 L287.40,212.25 L285.40,212.64 L283.40,213.03 L281.40,213.41 L279.40,213.79 L277.40,214.17 L275.40,214.53 L273.40,214.87 L271.40,215.19 L269.40,215.49 L267.40,215.77 L265.40,216.04 L263.40,216.30 L261.40,216.54 L259.40,216.78 L257.40,217.02 L255.40,217.25 L253.40,217.49 L251.40,217.71 L249.40,217.93 L247.40,218.15 L245.40,218.36 L243.40,218.56 L241.40,218.77 L239.40,218.97 L237.40,219.16 L235.40,219.36 L233.40,219.55 L231.40,219.72 L229.40,219.88 L227.40,220.01 L225.40,220.14 L223.40,220.25 L221.40,220.35 L219.90,220.41 L219.65,220.43 L219.40,220.44 L219.15,220.45 L218.90,220.46 L218.65,220.47 L218.40,220.48 L218.15,220.49 L217.90,220.50 L217.65,220.51 L217.40,220.51 L217.15,220.52 L216.90,220.53 L216.65,220.54 L216.40,220.55 L216.15,220.56 L215.90,220.57 L215.65,220.58 L215.40,220.58 L215.15,220.59 L214.90,220.60 L214.65,220.60 L214.40,220.61 L214.15,220.61 L213.90,220.62 L213.65,220.62 L213.40,220.62 L213.15,220.63 L212.90,220.63 L212.65,220.63 L212.40,220.63 L212.15,220.63 L211.90,220.62 L211.65,220.62 L211.40,220.62 L211.15,220.61 L210.90,220.61 L210.65,220.60 L210.40,220.59 L210.15,220.58 L209.90,220.57 L209.65,220.56 L209.40,220.55 L209.15,220.54 L208.90,220.53 L208.65,220.51 L208.40,220.50 L208.15,220.48 L207.90,220.46 L207.65,220.45 L207.40,220.43 L207.15,220.41 L206.90,220.39 L206.65,220.36 L206.40,220.34 L206.15,220.32 L205.90,220.29 L205.65,220.27 L205.40,220.24 L205.15,220.22 L204.90,220.19 L204.65,220.16 L204.40,220.13 L204.15,220.10 L203.90,220.06 L203.65,220.03 L203.40,220.00 L203.15,219.96 L202.90,219.93 L202.65,219.89 L202.40,219.85 L202.15,219.81 L201.90,219.77 L201.65,219.73 L201.40,219.69 L201.15,219.65 L200.90,219.61 L200.65,219.56 L200.40,219.52 L200.15,219.47 L199.90,219.42 L199.65,219.37 L199.40,219.32 L199.15,219.27 L198.90,219.22 L198.65,219.17 L198.40,219.12 L198.15,219.06 L197.90,219.01 L197.65,218.95 L197.40,218.89 L197.15,218.83 L196.90,218.77 L196.65,218.71 L196.40,218.65 L196.15,218.59 L195.90,218.52 L195.65,218.46 L195.40,218.39 L195.15,218.32 L194.90,218.25 L194.65,218.18 L194.40,218.11 L194.15,218.03 L193.90,217.95 L193.65,217.87 L193.40,217.79 L193.15,217.71 L192.90,217.62 L192.65,217.53 L192.40,217.44 L192.15,217.35 L191.90,217.26 L191.65,217.16 L191.40,217.06 L191.15,216.96 L190.90,216.86 L190.65,216.76 L190.40,216.66 L190.15,216.55 L189.90,216.45 L189.65,216.34 L189.40,216.23 L189.15,216.12 L188.90,216.01 L188.65,215.90 L188.40,215.79 L188.15,215.67 L187.90,215.56 L187.65,215.45 L187.40,215.33 L187.15,215.22 L186.90,215.10 L186.65,214.98 L186.40,214.87 L186.15,214.75 L185.90,214.63 L185.65,214.51 L185.40,214.39 L185.15,214.26 L184.90,214.14 L184.65,214.01 L184.40,213.89 L184.15,213.76 L183.90,213.63 L183.65,213.50 L183.40,213.37 L183.15,213.24 L182.90,213.11 L182.65,212.98 L182.40,212.84 L182.15,212.71 L181.90,212.57 L181.65,212.43 L181.40,212.29 L181.15,212.15 L180.90,212.01 L180.65,211.86 L180.40,211.72 L180.15,211.57 L179.90,211.42 L179.65,211.27 L179.40,211.12 L179.15,210.97 L178.90,210.81 L178.65,210.65 L178.40,210.50 L178.15,210.33 L177.90,210.17 L177.65,210.01 L177.40,209.84 L177.15,209.68 L176.90,209.51 L176.65,209.34 L176.40,209.17 L176.15,209.00 L175.90,208.82 L175.65,208.65 L175.40,208.47 L175.15,208.29 L174.90,208.12 L174.65,207.94 L174.40,207.75 L174.15,207.57 L173.90,207.39 L173.65,207.20 L173.40,207.02 L173.15,206.83 L172.90,206.65 L172.65,206.46 L172.40,206.27 L172.15,206.08 L171.90,205.88 L171.65,205.69 L171.40,205.50 L171.15,205.30 L170.90,205.10 L170.65,204.91 L170.40,204.71 L170.15,204.50 L169.90,204.30 L169.65,204.10 L169.40,203.89 L169.15,203.69 L168.90,203.48 L168.65,203.27 L168.40,203.06 L168.15,202.85 L167.90,202.64 L167.65,202.43 L167.40,202.22 L167.15,202.01 L166.90,201.80 L166.65,201.59 L166.40,201.38 L166.15,201.17 L165.90,200.96 L165.65,200.75 L165.40,200.54 L165.15,200.34 L164.90,200.13 L164.65,199.93 L164.40,199.72 L164.15,199.52 L163.90,199.32 L163.65,199.12 L163.40,198.92 L163.15,198.72 L162.90,198.52 L162.65,198.33 L162.40,198.13 L162.15,197.94 L161.90,197.75 L161.65,197.55 L161.40,197.36 L161.15,197.18 L160.90,196.99 L160.65,196.80 L160.40,196.62 L160.15,196.44 L159.90,196.27 L159.65,196.09 L159.40,195.92 L159.15,195.75 L158.90,195.59 L158.65,195.42 L158.40,195.27 L158.15,195.11 L157.90,194.96 L157.65,194.81 L157.40,194.66 L157.15,194.52 L156.90,194.37 L156.65,194.23 L156.40,194.09 L156.15,193.95 L155.90,193.81 L155.65,193.67 L155.40,193.53 L155.15,193.40 L154.90,193.26 L154.65,193.13 L154.40,193.00 L154.15,192.88 L153.90,192.75 L153.65,192.63 L153.40,192.51 L153.15,192.40 L152.90,192.29 L152.65,192.19 L152.40,192.09 L152.15,192.00 L151.90,191.91 L151.65,191.83 L151.40,191.75 L151.15,191.69 L150.90,191.64 L150.65,191.60 L150.40,191.57 L150.15,191.57 L149.90,191.59 L149.65,191.63 L149.40,191.71 L149.15,191.81 L148.90,191.94 L148.65,192.11 L148.40,192.31 L148.15,192.54 L147.90,192.80 L147.65,193.09 L147.40,193.40 L147.15,193.73 L146.90,194.09 L146.65,194.45 L146.40,194.83 L146.15,195.22 L145.90,195.61 L145.65,196.01 L145.40,196.41 L145.15,196.82 L144.90,197.22 L144.65,197.63 L144.40,198.03 L144.15,198.44 L143.90,198.85 L143.65,199.26 L143.40,199.67 L143.15,200.07 L142.90,200.48 L142.65,200.89 L142.40,201.30 L142.15,201.71 L141.90,202.12 L141.65,202.52 L141.40,202.93 L141.15,203.34 L140.90,203.75 L140.65,204.16 L140.40,204.57 L140.15,204.98 L139.90,205.38 L139.65,205.79 L139.40,206.20 L139.15,206.61 L138.90,207.02 L138.65,207.43 L138.40,207.83 L138.15,208.24 L137.90,208.65 L137.65,209.06 L137.40,209.46 L137.15,209.87 L136.90,210.28 L136.65,210.68 L136.40,211.09 L136.15,211.50 L135.90,211.91 L135.65,212.32 L135.40,212.74 L135.15,213.16 L134.90,213.58 L134.65,214.01 L134.40,214.46 L134.15,214.91 L133.90,215.37 L133.65,215.85 L133.40,216.35 L133.15,216.86 L132.90,217.38 L132.65,217.92 L132.40,218.48 L132.15,219.05 L131.90,219.63 L131.65,220.22 L131.40,220.82 L131.15,221.42 L130.90,222.04 L130.65,222.65 L130.40,223.27 L130.15,223.89 L129.90,224.51 L129.65,225.14 L129.40,225.76 L129.15,226.38 L128.90,227.00 L128.65,227.62 L128.40,228.24 L128.15,228.85 L127.90,229.45 L127.65,230.05 L127.40,230.64 L127.15,231.21 L126.90,231.78 L126.65,232.34 L126.40,232.89 L126.15,233.43 L125.90,233.95 L125.65,234.47 L125.40,234.97 L125.15,235.47 L124.90,235.96 L124.65,236.44 L124.40,236.91 L124.15,237.37 L123.90,237.82 L123.65,238.26 L123.40,238.70 L123.15,239.12 L122.90,239.54 L122.65,239.96 L122.40,240.36 L122.15,240.77 L121.90,241.18 L121.65,241.59 L121.40,242.00 L121.15,242.43 L120.90,242.87 L120.65,243.32 L120.40,243.80 L120.15,244.30 L119.90,244.83 L119.65,245.39 L119.40,245.98 L119.15,246.61 L118.90,247.26 L118.65,247.94 L118.40,248.64 L118.15,249.36 L117.90,250.10 L117.65,250.85 L117.40,251.60 L117.15,252.35 L116.90,253.09 L116.65,253.83 L116.40,254.55 L116.15,255.26 L115.90,255.95 L115.65,256.63 L115.40,257.29 L115.15,257.93 L114.90,258.56 L114.65,259.17 L114.40,259.77 L114.15,260.36 L113.90,260.94 L113.65,261.50 L113.40,262.06 L113.15,262.60 L112.90,263.14 L112.65,263.67 L112.40,264.20 L112.15,264.72 L111.90,265.23 L111.65,265.73 L111.40,266.23 L111.15,266.73 L110.90,267.21 L110.65,267.70 L110.40,268.17 L110.15,268.64 L109.90,269.10 L109.65,269.56 L109.40,270.02 L109.15,270.47 L108.90,270.92 L108.65,271.37 L108.40,271.81 L108.15,272.26 L107.90,272.71 L107.65,273.16 L107.40,273.61 L107.15,274.06 L106.90,274.51 L106.65,274.97 L106.40,275.42 L106.15,275.87 L105.90,276.32 L105.65,276.77 L105.40,277.22 L105.15,277.67 L104.90,278.12 L104.65,278.57 L104.40,279.03 L104.15,279.50 L103.90,279.99 L103.65,280.51 L103.40,281.05 L103.15,281.64 L102.90,282.27 L102.65,282.95 L102.40,283.68 L102.15,284.48 L101.90,285.33 L101.65,286.25 L101.40,287.21 L101.15,288.21 L100.90,289.26 L100.65,290.33 L100.40,291.42 L100.15,292.52 L99.90,293.62 L99.65,294.71 L99.40,295.78 L99.15,296.84 L98.90,297.86 L98.65,298.85 L98.40,299.80 L98.15,300.71 L97.90,301.58 L97.65,302.39 L97.40,303.16 L97.15,303.89 L96.90,304.57 L96.65,305.21 L96.40,305.80 L96.15,306.36 L95.90,306.89 L95.65,307.38 L95.40,307.83 L95.15,308.25 L94.90,308.63 L94.65,308.98 L94.40,309.29 L94.15,309.55 L93.90,309.77 L93.65,309.95 L93.40,310.08 L93.15,310.17 L92.90,310.20 L92.65,310.19 L92.40,310.12 L92.15,310.01 L91.90,309.84 L91.65,309.62 L91.40,309.36 L91.15,309.05 L90.90,308.69 L90.65,308.29 L90.40,307.84 L90.15,307.36 L89.90,306.82 L89.65,306.25 L89.40,305.62 L89.15,304.96 L88.90,304.25 L88.65,303.49 L88.40,302.68 L88.15,301.82 L87.90,300.91 L87.65,299.94 L87.40,298.92 L87.15,297.84 L86.90,296.71 L86.65,295.52 L86.40,294.28 L86.15,292.97 L85.90,291.61 L85.65,290.18 L85.40,288.69 L85.15,287.14 L84.90,285.51 L84.65,283.82 L84.40,282.05 L84.15,280.21 L83.90,278.30 L83.65,276.30 L83.40,274.23 L83.15,272.09 L82.90,269.87 L82.65,267.57 L82.40,265.21 L82.15,262.78 L81.90,260.29 L81.65,257.73 L81.40,255.12 L81.15,252.45 L80.90,249.74 L80.65,246.98 L80.40,244.18 L80.15,241.35 L79.90,238.49 L79.65,235.61 L79.40,232.70 L79.15,229.79 L78.90,226.86 L78.65,223.94 L78.40,221.01 L78.15,218.09 L77.90,215.17 L77.65,212.25 L77.40,209.32 L77.15,206.39 L76.90,203.45 L76.65,200.48 L76.40,197.48 L76.15,194.44 L75.90,191.36 L75.65,188.24 L75.40,185.09 L75.15,181.92 L74.90,178.75 L74.65,175.58 L74.40,172.43 L74.15,169.32 L73.90,166.25 L73.65,163.23 L73.40,160.24 L73.15,157.29 L72.90,154.37 L72.65,151.48 L72.40,148.59 L72.15,145.72 L71.90,142.85 L71.65,140.00 L71.40,137.17 L71.15,134.37 L70.90,131.60 L70.65,128.88 L70.40,126.22 L70.15,123.61 L69.90,121.08 L69.65,118.62 L69.40,116.23 L69.15,113.91 L68.90,111.66 L68.65,109.47 L68.40,107.34 L68.15,105.26 L67.90,103.22 L67.65,101.21 L67.40,99.24 L67.15,97.29 L66.90,95.37 L66.65,93.48 L66.40,91.61 L66.15,89.78 L65.90,87.99 L65.65,86.24 L65.40,84.55 L65.15,82.93 L64.90,81.38 L64.65,79.91 L64.40,78.54 L64.15,77.28 L63.90,76.12 L63.65,75.08 L63.40,74.17 L63.15,73.38 L62.90,72.72 L62.65,72.19 L62.40,71.79 L62.15,71.51 L61.90,71.35 L61.65,71.30 L61.40,71.37 L61.15,71.53 L60.90,71.78 L60.65,72.12 L60.40,72.55 L60.15,73.04 L59.90,73.61 L59.65,74.25 L59.40,74.94 L59.15,75.70 L58.90,76.50 L58.65,77.36 L58.40,78.27 L58.15,79.22 L57.90,80.21 L57.65,81.24 L57.40,82.30 Z" fill="#ff7f0e" fill-opacity="0.2"/>
<path d="M57.40,270.37 L57.65,266.72 L57.90,263.12 L58.15,259.56 L58.40,256.05 L58.65,252.60 L58.90,249.19 L59.15,245.82 L59.40,242.50 L59.65,239.20 L59.90,235.91 L60.15,232.62 L60.40,229.32 L60.65,225.99 L60.90,222.63 L61.15,219.23 L61.40,215.79 L61.65,212.31 L61.90,208.80 L62.15,205.27 L62.40,201.73 L62.65,198.18 L62.90,194.63 L63.15,191.11 L63.40,187.61 L63.65,184.14 L63.90,180.72 L64.15,177.34 L64.40,174.02 L64.65,170.76 L64.90,167.57 L65.15,164.45 L65.40,161.41 L65.65,158.44 L65.90,155.55 L66.15,152.73 L66.40,149.99 L66.65,147.31 L66.90,144.70 L67.15,142.14 L67.40,139.62 L67.65,137.15 L67.90,134.70 L68.15,132.27 L68.40,129.87 L68.65,127.48 L68.90,125.10 L69.15,122.74 L69.40,120.38 L69.65,118.05 L69.90,115.73 L70.15,113.43 L70.40,111.16 L70.65,108.93 L70.90,106.74 L71.15,104.60 L71.40,102.53 L71.65,100.52 L71.90,98.60 L72.15,96.76 L72.40,95.02 L72.65,93.38 L72.90,91.84 L73.15,90.40 L73.40,89.07 L73.65,87.85 L73.90,86.74 L74.15,85.73 L74.40,84.83 L74.65,84.03 L74.90,83.33 L75.15,82.75 L75.40,82.27 L75.65,81.90 L75.90,81.65 L76.15,81.52 L76.40,81.50 L76.65,81.59 L76.90,81.79 L77.15,82.11 L77.40,82.52 L77.65,83.04 L77.90,83.64 L78.15,84.33 L78.40,85.10 L78.65,85.94 L78.90,86.85 L79.15,87.82 L79.40,88.84 L79.65,89.92 L79.90,91.04 L80.15,92.20 L80.40,93.39 L80.65,94.61 L80.90,95.85 L81.15,97.10 L81.40,98.37 L81.65,99.65 L81.90,100.94 L82.15,102.24 L82.40,103.55 L82.65,104.88 L82.90,106.23 L83.15,107.61 L83.40,109.02 L83.65,110.47 L83.90,111.94 L84.15,113.45 L84.40,114.99 L84.65,116.56 L84.90,118.16 L85.15,119.77 L85.40,121.40 L85.65,123.04 L85.90,124.69 L86.15,126.35 L86.40,128.01 L86.65,129.67 L86.90,131.34 L87.15,133.00 L87.40,134.67 L87.65,136.34 L87.90,138.01 L88.15,139.68 L88.40,141.35 L88.65,143.02 L88.90,144.69 L89.15,146.37 L89.40,148.05 L89.65,149.73 L89.90,151.41 L90.15,153.10 L90.40,154.78 L90.65,156.45 L90.90,158.12 L91.15,159.78 L91.40,161.42 L91.65,163.04 L91.90,164.63 L92.15,166.19 L92.40,167.71 L92.65,169.19 L92.90,170.62 L93.15,171.99 L93.40,173.32 L93.65,174.60 L93.90,175.82 L94.15,177.00 L94.40,178.13 L94.65,179.22 L94.90,180.27 L95.15,181.29 L95.40,182.29 L95.65,183.26 L95.90,184.22 L96.15,185.17 L96.40,186.10 L96.65,187.03 L96.90,187.96 L97.15,188.88 L97.40,189.80 L97.65,190.72 L97.90,191.63 L98.15,192.55 L98.40,193.47 L98.65,194.38 L98.90,195.30 L99.15,196.22 L99.40,197.14 L99.65,198.06 L99.90,198.98 L100.15,199.91 L100.40,200.84 L100.65,201.77 L100.90,202.71 L101.15,203.66 L101.40,204.61 L101.65,205.57 L101.90,206.54 L102.15,207.52 L102.40,208.50 L102.65,209.50 L102.90,210.51 L103.15,211.53 L103.40,212.56 L103.65,213.60 L103.90,214.65 L104.15,215.72 L104.40,216.80 L104.65,217.89 L104.90,219.00 L105.15,220.12 L105.40,221.25 L105.65,222.39 L105.90,223.53 L106.15,224.66 L106.40,225.79 L106.65,226.90 L106.90,227.99 L107.15,229.05 L107.40,230.08 L107.65,231.09 L107.90,232.05 L108.15,232.98 L108.40,233.87 L108.65,234.72 L108.90,235.54 L109.15,236.32 L109.40,237.07 L109.65,237.80 L109.90,238.50 L110.15,239.17 L110.40,239.82 L110.65,240.44 L110.90,241.05 L111.15,241.63 L111.40,242.19 L111.65,242.73 L111.90,243.25 L112.15,243.74 L112.40,244.21 L112.65,244.66 L112.90,245.09 L113.15,245.50 L113.40,245.89 L113.65,246.26 L113.90,246.62 L114.15,246.97 L114.40,247.30 L114.65,247.62 L114.90,247.93 L115.15,248.24 L115.40,248.53 L115.65,248.81 L115.90,249.09 L116.15,249.36 L116.40,249.62 L116.65,249.88 L116.90,250.13 L117.15,250.37 L117.40,250.61 L117.65,250.84 L117.90,251.06 L118.15,251.28 L118.40,251.49 L118.65,251.70 L118.90,251.89 L119.15,252.08 L119.40,252.26 L119.65,252.42 L119.90,252.58 L120.15,252.72 L120.40,252.85 L120.65,252.96 L120.90,253.05 L121.15,253.12 L121.40,253.17 L121.65,253.20 L121.90,253.20 L122.15,253.17 L122.40,253.10 L122.65,253.01 L122.90,252.87 L123.15,252.70 L123.40,252.49 L123.65,252.24 L123.90,251.95 L124.15,251.62 L124.40,251.27 L124.65,250.88 L124.90,250.47 L125.15,250.03 L125.40,249.58 L125.65,249.11 L125.90,248.63 L126.15,248.13 L126.40,247.63 L126.65,247.11 L126.90,246.58 L127.15,246.05 L127.40,245.50 L127.65,244.94 L127.90,244.36 L128.15,243.78 L128.40,243.18 L128.65,242.57 L128.90,241.95 L129.15,241.32 L129.40,240.69 L129.65,240.04 L129.90,239.39 L130.15,238.73 L130.40,238.07 L130.65,237.40 L130.90,236.72 L131.15,236.04 L131.40,235.36 L131.65,234.68 L131.90,233.99 L132.15,233.30 L132.40,232.61 L132.65,231.92 L132.90,231.23 L133.15,230.54 L133.40,229.85 L133.65,229.17 L133.90,228.50 L134.15,227.83 L134.40,227.16 L134.65,226.51 L134.90,225.86 L135.15,225.22 L135.40,224.59 L135.65,223.97 L135.90,223.35 L136.15,222.75 L136.40,222.14 L136.65,221.55 L136.90,220.95 L137.15,220.37 L137.40,219.78 L137.65,219.20 L137.90,218.63 L138.15,218.06 L138.40,217.49 L138.65,216.92 L138.90,216.36 L139.15,215.80 L139.40,215.24 L139.65,214.68 L139.90,214.12 L140.15,213.57 L140.40,213.02 L140.65,212.47 L140.90,211.92 L141.15,211.37 L141.40,210.82 L141.65,210.28 L141.90,209.74 L142.15,209.20 L142.40,208.66 L142.65,208.13 L142.90,207.59 L143.15,207.06 L143.40,206.53 L143.65,205.99 L143.90,205.46 L144.15,204.93 L144.40,204.40 L144.65,203.87 L144.90,203.34 L145.15,202.81 L145.40,202.27 L145.65,201.74 L145.90,201.21 L146.15,200.68 L146.40,200.15 L146.65,199.62 L146.90,199.09 L147.15,198.56 L147.40,198.03 L147.65,197.51 L147.90,196.98 L148.15,196.47 L148.40,195.96 L148.65,195.45 L148.90,194.96 L149.15,194.48 L149.40,194.01 L149.65,193.56 L149.90,193.13 L150.15,192.71 L150.40,192.31 L150.65,191.94 L150.90,191.58 L151.15,191.24 L151.40,190.92 L151.65,190.61 L151.90,190.32 L152.15,190.03 L152.40,189.76 L152.65,189.49 L152.90,189.22 L153.15,188.96 L153.40,188.69 L153.65,188.43 L153.90,188.16 L154.15,187.88 L154.40,187.59 L154.65,187.30 L154.90,187.00 L155.15,186.70 L155.40,186.38 L155.65,186.06 L155.90,185.74 L156.15,185.42 L156.40,185.10 L156.65,184.78 L156.90,184.46 L157.15,184.15 L157.40,183.84 L157.65,183.55 L157.90,183.27 L158.15,182.99 L158.40,182.73 L158.65,182.48 L158.90,182.24 L159.15,182.00 L159.40,181.78 L159.65,181.57 L159.90,181.36 L160.15,181.16 L160.40,180.96 L160.65,180.77 L160.90,180.58 L161.15,180.39 L161.40,180.20 L161.65,180.01 L161.90,179.82 L162.15,179.63 L162.40,179.43 L162.65,179.22 L162.90,179.02 L163.15,178.81 L163.40,178.59 L163.65,178.37 L163.90,178.15 L164.15,177.92 L164.40,177.69 L164.65,177.45 L164.90,177.21 L165.15,176.98 L165.40,176.73 L165.65,176.49 L165.90,176.25 L166.15,176.01 L166.40,175.76 L166.65,175.52 L166.90,175.28 L167.15,175.04 L167.40,174.80 L167.65,174.57 L167.90,174.34 L168.15,174.11 L168.40,173.89 L168.65,173.67 L168.90,173.45 L169.15,173.25 L169.40,173.04 L169.65,172.85 L169.90,172.66 L170.15,172.47 L170.40,172.30 L170.65,172.13 L170.90,171.96 L171.15,171.81 L171.40,171.66 L171.65,171.52 L171.90,171.39 L172.15,171.26 L172.40,171.14 L172.65,171.02 L172.90,170.92 L173.15,170.82 L173.40,170.72 L173.65,170.63 L173.90,170.55 L174.15,170.47 L174.40,170.40 L174.65,170.33 L174.90,170.27 L175.15,170.21 L175.40,170.16 L175.65,170.11 L175.90,170.07 L176.15,170.03 L176.40,169.99 L176.65,169.96 L176.90,169.93 L177.15,169.91 L177.40,169.88 L177.65,169.87 L177.90,169.85 L178.15,169.84 L178.40,169.83 L178.65,169.82 L178.90,169.81 L179.15,169.81 L179.40,169.81 L179.65,169.81 L179.90,169.81 L180.15,169.81 L180.40,169.82 L180.65,169.82 L180.90,169.83 L181.15,169.83 L181.40,169.84 L181.65,169.85 L181.90,169.85 L182.15,169.86 L182.40,169.87 L182.65,169.88 L182.90,169.89 L183.15,169.90 L183.40,169.91 L183.65,169.92 L183.90,169.93 L184.15,169.94 L184.40,169.96 L184.65,169.97 L184.90,169.99 L185.15,170.00 L185.40,170.02 L185.65,170.04 L185.90,170.05 L186.15,170.07 L186.40,170.09 L186.65,170.12 L186.90,170.14 L187.15,170.16 L187.40,170.19 L187.65,170.21 L187.90,170.24 L188.15,170.27 L188.40,170.30 L188.65,170.33 L188.90,170.36 L189.15,170.39 L189.40,170.42 L189.65,170.46 L189.90,170.49 L190.15,170.53 L190.40,170.57 L190.65,170.60 L190.90,170.64 L191.15,170.68 L191.40,170.72 L191.65,170.76 L191.90,170.79 L192.15,170.83 L192.40,170.87 L192.65,170.91 L192.90,170.95 L193.15,170.99 L193.40,171.03 L193.65,171.07 L193.90,171.11 L194.15,171.15 L194.40,171.20 L194.65,171.24 L194.90,171.28 L195.15,171.32 L195.40,171.37 L195.65,171.41 L195.90,171.46 L196.15,171.50 L196.40,171.55 L196.65,171.60 L196.90,171.64 L197.15,171.69 L197.40,171.74 L197.65,171.79 L197.90,171.84 L198.15,171.90 L198.40,171.95 L198.65,172.00 L198.90,172.06 L199.15,172.11 L199.40,172.17 L199.65,172.23 L199.90,172.29 L200.15,172.34 L200.40,172.40 L200.65,172.46 L200.90,172.52 L201.15,172.59 L201.40,172.65 L201.65,172.71 L201.90,172.77 L202.15,172.84 L202.40,172.90 L202.65,172.96 L202.90,173.03 L203.15,173.09 L203.40,173.16 L203.65,173.22 L203.90,173.29 L204.15,173.35 L204.40,173.42 L204.65,173.48 L204.90,173.55 L205.15,173.62 L205.40,173.69 L205.65,173.75 L205.90,173.82 L206.15,173.89 L206.40,173.96 L206.65,174.03 L206.90,174.10 L207.15,174.17 L207.40,174.24 L207.65,174.31 L207.90,174.38 L208.15,174.45 L208.40,174.52 L208.65,174.59 L208.90,174.66 L209.15,174.74 L209.40,174.81 L209.65,174.88 L209.90,174.95 L210.15,175.03 L210.40,175.10 L210.65,175.17 L210.90,175.25 L211.15,175.32 L211.40,175.40 L211.65,175.47 L211.90,175.55 L212.15,175.62 L212.40,175.70 L212.65,175.77 L212.90,175.85 L213.15,175.93 L213.40,176.00 L213.65,176.08 L213.90,176.16 L214.15,176.24 L214.40,176.32 L214.65,176.40 L214.90,176.48 L215.15,176.56 L215.40,176.64 L215.65,176.72 L215.90,176.80 L216.15,176.89 L216.40,176.97 L216.65,177.06 L216.90,177.14 L217.15,177.23 L217.40,177.32 L217.65,177.41 L217.90,177.49 L218.15,177.58 L218.40,177.67 L218.65,177.76 L218.90,177.86 L219.15,177.95 L219.40,178.04 L219.65,178.13 L219.90,178.22 L221.40,178.77 L223.40,179.47 L225.40,180.12 L227.40,180.73 L229.40,181.31 L231.40,181.88 L233.40,182.43 L235.40,182.94 L237.40,183.43 L239.40,183.89 L241.40,184.32 L243.40,184.71 L245.40,185.07 L247.40,185.40 L249.40,185.73 L251.40,186.06 L253.40,186.38 L255.40,186.69 L257.40,187.00 L259.40,187.31 L261.40,187.61 L263.40,187.90 L265.40,188.19 L267.40,188.47 L269.40,188.75 L271.40,189.02 L273.40,189.29 L275.40,189.55 L277.40,189.81 L279.40,190.07 L281.40,190.33 L283.40,190.58 L285.40,190.83 L287.40,191.08 L289.40,191.33 L291.40,191.57 L293.40,191.81 L295.40,192.05 L297.40,192.28 L299.40,192.50 L301.40,192.72 L303.40,192.94 L305.40,193.14 L307.40,193.34 L309.40,193.53 L311.40,193.71 L313.40,193.87 L315.40,194.03 L317.40,194.17 L319.40,194.30 L321.40,194.41 L323.40,194.52 L325.40,194.62 L327.40,194.71 L329.40,194.79 L331.40,194.87 L333.40,194.94 L335.40,195.01 L337.40,195.08 L339.40,195.15 L341.40,195.22 L343.40,195.28 L345.40,195.34 L347.40,195.39 L349.40,195.43 L351.40,195.46 L353.40,195.49 L355.40,195.50 L357.40,195.51 L359.40,195.51 L361.40,195.51 L363.40,195.51 L365.40,195.51 L367.40,195.50 L369.40,195.49 L371.40,195.47 L373.40,195.46 L375.40,195.44 L377.40,195.41 L379.40,195.39 L381.40,195.36 L383.40,195.33 L385.40,195.29 L387.40,195.25 L389.40,195.22 L391.40,195.18 L393.40,195.13 L395.40,195.09 L397.40,195.05 L399.40,195.01 L401.40,194.96 L403.40,194.92 L405.40,194.88 L407.40,194.84 L409.40,194.79 L411.40,194.75 L413.40,194.72 L415.40,194.68 L417.40,194.64 L419.40,194.61 L421.40,194.58 L423.40,194.55 L425.40,194.51 L427.40,194.48 L429.40,194.45 L431.40,194.42 L433.40,194.39 L435.40,194.36 L437.40,194.32 L439.40,194.29 L441.40,194.26 L443.40,194.23 L445.40,194.20 L447.40,194.17 L449.40,194.14 L451.40,194.12 L453.40,194.09 L455.40,194.06 L457.40,194.03 L459.40,194.01 L461.40,193.98 L463.40,193.96 L465.40,193.93 L467.40,193.91 L469.40,193.88 L471.40,193.86 L473.40,193.83 L475.40,193.81 L477.40,193.78 L479.40,193.76 L481.40,193.73 L483.40,193.71 L485.40,193.68 L487.40,193.66 L489.40,193.63 L491.40,193.61 L493.40,193.58 L495.40,193.56 L497.40,193.53 L499.40,193.51 L501.40,193.48 L503.40,193.46 L505.40,193.43 L507.40,193.41 L509.40,193.39 L511.40,193.36 L513.40,193.34 L515.40,193.31 L517.40,193.29 L519.40,193.26 L521.40,193.24 L523.40,193.21 L525.40,193.19 L527.40,193.17 L529.40,193.14 L531.40,193.12 L533.40,193.09 L535.40,193.07 L537.40,193.04 L539.40,193.02 L541.05,193.00 L541.05,193.40 L539.40,193.42 L537.40,193.45 L535.40,193.48 L533.40,193.50 L531.40,193.53 L529.40,193.56 L527.40,193.59 L525.40,193.62 L523.40,193.65 L521.40,193.68 L519.40,193.71 L517.40,193.74 L515.40,193.77 L513.40,193.80 L511.40,193.83 L509.40,193.86 L507.40,193.89 L505.40,193.92 L503.40,193.95 L501.40,193.98 L499.40,194.01 L497.40,194.04 L495.40,194.07 L493.40,194.10 L491.40,194.14 L489.40,194.17 L487.40,194.21 L485.40,194.24 L483.40,194.27 L481.40,194.31 L479.40,194.35 L477.40,194.38 L475.40,194.42 L473.40,194.45 L471.40,194.49 L469.40,194.53 L467.40,194.56 L465.40,194.60 L463.40,194.64 L461.40,194.67 L459.40,194.71 L457.40,194.75 L455.40,194.79 L453.40,194.83 L451.40,194.88 L449.40,194.92 L447.40,194.97 L445.40,195.02 L443.40,195.07 L441.40,195.13 L439.40,195.18 L437.40,195.24 L435.40,195.30 L433.40,195.36 L431.40,195.42 L429.40,195.48 L427.40,195.55 L425.40,195.62 L423.40,195.68 L421.40,195.75 L419.40,195.82 L417.40,195.90 L415.40,195.98 L413.40,196.07 L411.40,196.16 L409.40,196.27 L407.40,196.37 L405.40,196.49 L403.40,196.61 L401.40,196.74 L399.40,196.87 L397.40,197.01 L395.40,197.15 L393.40,197.30 L391.40,197.46 L389.40,197.62 L387.40,197.79 L385.40,197.97 L383.40,198.14 L381.40,198.33 L379.40,198.51 L377.40,198.70 L375.40,198.89 L373.40,199.09 L371.40,199.29 L369.40,199.49 L367.40,199.69 L365.40,199.90 L363.40,200.11 L361.40,200.32 L359.40,200.53 L357.40,200.74 L355.40,200.96 L353.40,201.17 L351.40,201.39 L349.40,201.61 L347.40,201.84 L345.40,202.07 L343.40,202.30 L341.40,202.53 L339.40,202.77 L337.40,203.01 L335.40,203.25 L333.40,203.50 L331.40,203.76 L329.40,204.02 L327.40,204.29 L325.40,204.57 L323.40,204.86 L321.40,205.16 L319.40,205.47 L317.40,205.79 L315.40,206.13 L313.40,206.48 L311.40,206.84 L309.40,207.20 L307.40,207.56 L305.40,207.92 L303.40,208.28 L301.40,208.65 L299.40,209.01 L297.40,209.37 L295.40,209.73 L293.40,210.10 L291.40,210.48 L289.40,210.88 L287.40,211.27 L285.40,211.67 L283.40,212.04 L281.40,212.40 L279.40,212.73 L277.40,213.01 L275.40,213.25 L273.40,213.46 L271.40,213.66 L269.40,213.86 L267.40,214.06 L265.40,214.26 L263.40,214.46 L261.40,214.66 L259.40,214.86 L257.40,215.06 L255.40,215.26 L253.40,215.46 L251.40,215.66 L249.40,215.86 L247.40,216.06 L245.40,216.26 L243.40,216.46 L241.40,216.66 L239.40,216.86 L237.40,217.06 L235.40,217.26 L233.40,217.45 L231.40,217.62 L229.40,217.77 L227.40,217.90 L225.40,218.02 L223.40,218.13 L221.40,218.23 L219.90,218.30 L219.65,218.32 L219.40,218.33 L219.15,218.34 L218.90,218.35 L218.65,218.37 L218.40,218.38 L218.15,218.39 L217.90,218.40 L217.65,218.42 L217.40,218.43 L217.15,218.44 L216.90,218.45 L216.65,218.47 L216.40,218.48 L216.15,218.49 L215.90,218.50 L215.65,218.52 L215.40,218.53 L215.15,218.54 L214.90,218.56 L214.65,218.57 L214.40,218.58 L214.15,218.59 L213.90,218.61 L213.65,218.62 L213.40,218.63 L213.15,218.64 L212.90,218.66 L212.65,218.67 L212.40,218.68 L212.15,218.69 L211.90,218.71 L211.65,218.72 L211.40,218.73 L211.15,218.74 L210.90,218.76 L210.65,218.77 L210.40,218.78 L210.15,218.79 L209.90,218.81 L209.65,218.82 L209.40,218.83 L209.15,218.84 L208.90,218.86 L208.65,218.87 L208.40,218.88 L208.15,218.89 L207.90,218.91 L207.65,218.92 L207.40,218.93 L207.15,218.94 L206.90,218.96 L206.65,218.97 L206.40,218.98 L206.15,218.99 L205.90,219.00 L205.65,219.02 L205.40,219.03 L205.15,219.04 L204.90,219.06 L204.65,219.07 L204.40,219.08 L204.15,219.09 L203.90,219.11 L203.65,219.12 L203.40,219.13 L203.15,219.14 L202.90,219.16 L202.65,219.17 L202.40,219.18 L202.15,219.19 L201.90,219.21 L201.65,219.22 L201.40,219.23 L201.15,219.24 L200.90,219.26 L200.65,219.27 L200.40,219.29 L200.15,219.30 L199.90,219.32 L199.65,219.34 L199.40,219.36 L199.15,219.38 L198.90,219.40 L198.65,219.42 L198.40,219.45 L198.15,219.47 L197.90,219.50 L197.65,219.53 L197.40,219.56 L197.15,219.60 L196.90,219.63 L196.65,219.67 L196.40,219.71 L196.15,219.75 L195.90,219.79 L195.65,219.83 L195.40,219.87 L195.15,219.92 L194.90,219.96 L194.65,220.01 L194.40,220.06 L194.15,220.11 L193.90,220.16 L193.65,220.21 L193.40,220.26 L193.15,220.31 L192.90,220.36 L192.65,220.42 L192.40,220.47 L192.15,220.53 L191.90,220.58 L191.65,220.64 L191.40,220.69 L191.15,220.75 L190.90,220.80 L190.65,220.86 L190.40,220.92 L190.15,220.98 L189.90,221.04 L189.65,221.10 L189.40,221.17 L189.15,221.24 L188.90,221.31 L188.65,221.38 L188.40,221.45 L188.15,221.53 L187.90,221.61 L187.65,221.69 L187.40,221.78 L187.15,221.87 L186.90,221.96 L186.65,222.06 L186.40,222.16 L186.15,222.27 L185.90,222.37 L185.65,222.48 L185.40,222.60 L185.15,222.72 L184.90,222.84 L184.65,222.97 L184.40,223.10 L184.15,223.23 L183.90,223.37 L183.65,223.51 L183.40,223.65 L183.15,223.80 L182.90,223.96 L182.65,224.11 L182.40,224.28 L182.15,224.44 L181.90,224.61 L181.65,224.79 L181.40,224.97 L181.15,225.15 L180.90,225.34 L180.65,225.53 L180.40,225.73 L180.15,225.93 L179.90,226.14 L179.65,226.35 L179.40,226.57 L179.15,226.79 L178.90,227.02 L178.65,227.25 L178.40,227.49 L178.15,227.73 L177.90,227.97 L177.65,228.22 L177.40,228.48 L177.15,228.74 L176.90,229.01 L176.65,229.28 L176.40,229.55 L176.15,229.83 L175.90,230.11 L175.65,230.40 L175.40,230.69 L175.15,230.99 L174.90,231.29 L174.65,231.59 L174.40,231.90 L174.15,232.21 L173.90,232.52 L173.65,232.84 L173.40,233.17 L173.15,233.49 L172.90,233.82 L172.65,234.15 L172.40,234.49 L172.15,234.83 L171.90,235.17 L171.65,235.52 L171.40,235.86 L171.15,236.21 L170.90,236.57 L170.65,236.92 L170.40,237.28 L170.15,237.63 L169.90,237.99 L169.65,238.35 L169.40,238.72 L169.15,239.08 L168.90,239.44 L168.65,239.80 L168.40,240.16 L168.15,240.53 L167.90,240.89 L167.65,241.25 L167.40,241.61 L167.15,241.97 L166.90,242.32 L166.65,242.68 L166.40,243.03 L166.15,243.38 L165.90,243.73 L165.65,244.08 L165.40,244.42 L165.15,244.76 L164.90,245.10 L164.65,245.43 L164.40,245.76 L164.15,246.09 L163.90,246.42 L163.65,246.75 L163.40,247.07 L163.15,247.40 L162.90,247.72 L162.65,248.04 L162.40,248.36 L162.15,248.68 L161.90,249.01 L161.65,249.33 L161.40,249.66 L161.15,249.99 L160.90,250.33 L160.65,250.66 L160.40,251.00 L160.15,251.35 L159.90,251.69 L159.65,252.05 L159.40,252.40 L159.15,252.76 L158.90,253.12 L158.65,253.49 L158.40,253.86 L158.15,254.24 L157.90,254.61 L157.65,254.99 L157.40,255.37 L157.15,255.75 L156.90,256.13 L156.65,256.51 L156.40,256.89 L156.15,257.27 L155.90,257.65 L155.65,258.03 L155.40,258.41 L155.15,258.78 L154.90,259.15 L154.65,259.52 L154.40,259.89 L154.15,260.25 L153.90,260.61 L153.65,260.97 L153.40,261.33 L153.15,261.68 L152.90,262.03 L152.65,262.38 L152.40,262.73 L152.15,263.07 L151.90,263.41 L151.65,263.76 L151.40,264.09 L151.15,264.43 L150.90,264.77 L150.65,265.10 L150.40,265.43 L150.15,265.76 L149.90,266.08 L149.65,266.40 L149.40,266.72 L149.15,267.04 L148.90,267.36 L148.65,267.67 L148.40,267.98 L148.15,268.29 L147.90,268.60 L147.65,268.90 L147.40,269.20 L147.15,269.50 L146.90,269.80 L146.65,270.10 L146.40,270.39 L146.15,270.69 L145.90,270.98 L145.65,271.27 L145.40,271.55 L145.15,271.84 L144.90,272.12 L144.65,272.40 L144.40,272.68 L144.15,272.96 L143.90,273.24 L143.65,273.51 L143.40,273.79 L143.15,274.06 L142.90,274.32 L142.65,274.59 L142.40,274.85 L142.15,275.12 L141.90,275.37 L141.65,275.63 L141.40,275.89 L141.15,276.14 L140.90,276.39 L140.65,276.64 L140.40,276.89 L140.15,277.14 L139.90,277.38 L139.65,277.62 L139.40,277.87 L139.15,278.11 L138.90,278.35 L138.65,278.58 L138.40,278.82 L138.15,279.06 L137.90,279.30 L137.65,279.53 L137.40,279.77 L137.15,280.00 L136.90,280.24 L136.65,280.47 L136.40,280.70 L136.15,280.93 L135.90,281.16 L135.65,281.40 L135.40,281.63 L135.15,281.85 L134.90,282.08 L134.65,282.31 L134.40,282.54 L134.15,282.77 L133.90,282.99 L133.65,283.22 L133.40,283.44 L133.15,283.67 L132.90,283.89 L132.65,284.12 L132.40,284.34 L132.15,284.57 L131.90,284.79 L131.65,285.02 L131.40,285.24 L131.15,285.47 L130.90,285.69 L130.65,285.92 L130.40,286.15 L130.15,286.38 L129.90,286.61 L129.65,286.84 L129.40,287.08 L129.15,287.32 L128.90,287.55 L128.65,287.79 L128.40,288.04 L128.15,288.28 L127.90,288.53 L127.65,288.78 L127.40,289.03 L127.15,289.28 L126.90,289.54 L126.65,289.79 L126.40,290.05 L126.15,290.31 L125.90,290.58 L125.65,290.85 L125.40,291.12 L125.15,291.40 L124.90,291.68 L124.65,291.97 L124.40,292.27 L124.15,292.57 L123.90,292.87 L123.65,293.18 L123.40,293.50 L123.15,293.82 L122.90,294.15 L122.65,294.48 L122.40,294.81 L122.15,295.14 L121.90,295.48 L121.65,295.81 L121.40,296.14 L121.15,296.46 L120.90,296.78 L120.65,297.10 L120.40,297.41 L120.15,297.71 L119.90,298.00 L119.65,298.29 L119.40,298.56 L119.15,298.83 L118.90,299.08 L118.65,299.32 L118.40,299.55 L118.15,299.77 L117.90,299.97 L117.65,300.16 L117.40,300.34 L117.15,300.50 L116.90,300.64 L116.65,300.76 L116.40,300.86 L116.15,300.94 L115.90,301.01 L115.65,301.05 L115.40,301.07 L115.15,301.07 L114.90,301.05 L114.65,301.01 L114.40,300.96 L114.15,300.88 L113.90,300.79 L113.65,300.68 L113.40,300.55 L113.15,300.40 L112.90,300.23 L112.65,300.04 L112.40,299.84 L112.15,299.61 L111.90,299.36 L111.65,299.09 L111.40,298.79 L111.15,298.48 L110.90,298.14 L110.65,297.78 L110.40,297.39 L110.15,296.98 L109.90,296.55 L109.65,296.09 L109.40,295.61 L109.15,295.11 L108.90,294.58 L108.65,294.02 L108.40,293.44 L108.15,292.84 L107.90,292.21 L107.65,291.56 L107.40,290.88 L107.15,290.19 L106.90,289.47 L106.65,288.73 L106.40,287.97 L106.15,287.19 L105.90,286.40 L105.65,285.59 L105.40,284.76 L105.15,283.91 L104.90,283.05 L104.65,282.17 L104.40,281.28 L104.15,280.37 L103.90,279.45 L103.65,278.51 L103.40,277.55 L103.15,276.58 L102.90,275.59 L102.65,274.59 L102.40,273.57 L102.15,272.54 L101.90,271.48 L101.65,270.41 L101.40,269.32 L101.15,268.20 L100.90,267.07 L100.65,265.91 L100.40,264.73 L100.15,263.53 L99.90,262.29 L99.65,261.03 L99.40,259.72 L99.15,258.37 L98.90,256.97 L98.65,255.50 L98.40,253.96 L98.15,252.34 L97.90,250.63 L97.65,248.83 L97.40,246.92 L97.15,244.92 L96.90,242.83 L96.65,240.64 L96.40,238.37 L96.15,236.03 L95.90,233.62 L95.65,231.14 L95.40,228.60 L95.15,226.00 L94.90,223.34 L94.65,220.63 L94.40,217.86 L94.15,215.04 L93.90,212.19 L93.65,209.32 L93.40,206.46 L93.15,203.62 L92.90,200.84 L92.65,198.14 L92.40,195.53 L92.15,193.02 L91.90,190.63 L91.65,188.35 L91.40,186.17 L91.15,184.10 L90.90,182.11 L90.65,180.20 L90.40,178.35 L90.15,176.55 L89.90,174.79 L89.65,173.07 L89.40,171.37 L89.15,169.69 L88.90,168.03 L88.65,166.38 L88.40,164.74 L88.15,163.11 L87.90,161.48 L87.65,159.86 L87.40,158.24 L87.15,156.62 L86.90,155.01 L86.65,153.39 L86.40,151.77 L86.15,150.15 L85.90,148.52 L85.65,146.89 L85.40,145.26 L85.15,143.62 L84.90,141.98 L84.65,140.33 L84.40,138.68 L84.15,137.03 L83.90,135.37 L83.65,133.72 L83.40,132.08 L83.15,130.45 L82.90,128.82 L82.65,127.22 L82.40,125.64 L82.15,124.08 L81.90,122.56 L81.65,121.08 L81.40,119.64 L81.15,118.25 L80.90,116.92 L80.65,115.65 L80.40,114.45 L80.15,113.32 L79.90,112.26 L79.65,111.27 L79.40,110.36 L79.15,109.52 L78.90,108.75 L78.65,108.05 L78.40,107.42 L78.15,106.86 L77.90,106.36 L77.65,105.94 L77.40,105.59 L77.15,105.30 L76.90,105.09 L76.65,104.95 L76.40,104.88 L76.15,104.89 L75.90,104.97 L75.65,105.12 L75.40,105.34 L75.15,105.63 L74.90,105.98 L74.65,106.41 L74.40,106.90 L74.15,107.46 L73.90,108.10 L73.65,108.81 L73.40,109.61 L73.15,110.49 L72.90,111.45 L72.65,112.50 L72.40,113.65 L72.15,114.88 L71.90,116.21 L71.65,117.63 L71.40,119.13 L71.15,120.71 L70.90,122.37 L70.65,124.11 L70.40,125.93 L70.15,127.81 L69.90,129.76 L69.65,131.78 L69.40,133.87 L69.15,136.03 L68.90,138.26 L68.65,140.56 L68.40,142.92 L68.15,145.36 L67.90,147.87 L67.65,150.43 L67.40,153.06 L67.15,155.74 L66.90,158.47 L66.65,161.25 L66.40,164.07 L66.15,166.93 L65.90,169.85 L65.65,172.81 L65.40,175.82 L65.15,178.88 L64.90,182.01 L64.65,185.19 L64.40,188.44 L64.15,191.75 L63.90,195.11 L63.65,198.52 L63.40,201.96 L63.15,205.43 L62.90,208.90 L62.65,212.37 L62.40,215.82 L62.15,219.24 L61.90,222.63 L61.65,225.97 L61.40,229.29 L61.15,232.58 L60.90,235.84 L60.65,239.10 L60.40,242.37 L60.15,245.65 L59.90,248.96 L59.65,252.30 L59.40,255.68 L59.15,259.11 L58.90,262.58 L58.65,266.10 L58.40,269.66 L58.15,273.25 L57.90,276.88 L57.65,280.54 L57.40,284.23 Z" fill="#5fa032" fill-opacity="0.2"/>
<path d="M57.40,26.41 L57.65,26.48 L57.90,26.56 L58.15,26.64 L58.40,26.71 L58.65,26.79 L58.90,26.87 L59.15,26.96 L59.40,27.04 L59.65,27.13 L59.90,27.21 L60.15,27.30 L60.40,27.39 L60.65,27.49 L60.90,27.58 L61.15,27.68 L61.40,27.78 L61.65,27.88 L61.90,27.98 L62.15,28.08 L62.40,28.19 L62.65,28.30 L62.90,28.41 L63.15,28.52 L63.40,28.64 L63.65,28.76 L63.90,28.88 L64.15,29.00 L64.40,29.13 L64.65,29.26 L64.90,29.39 L65.15,29.53 L65.40,29.67 L65.65,29.81 L65.90,29.96 L66.15,30.11 L66.40,30.26 L66.65,30.42 L66.90,30.58 L67.15,30.75 L67.40,30.92 L67.65,31.09 L67.90,31.27 L68.15,31.45 L68.40,31.63 L68.65,31.81 L68.90,32.00 L69.15,32.20 L69.40,32.40 L69.65,32.60 L69.90,32.80 L70.15,33.01 L70.40,33.23 L70.65,33.45 L70.90,33.67 L71.15,33.90 L71.40,34.14 L71.65,34.38 L71.90,34.63 L72.15,34.89 L72.40,35.15 L72.65,35.42 L72.90,35.69 L73.15,35.97 L73.40,36.26 L73.65,36.56 L73.90,36.86 L74.15,37.17 L74.40,37.49 L74.65,37.81 L74.90,38.14 L75.15,38.48 L75.40,38.82 L75.65,39.17 L75.90,39.52 L76.15,39.88 L76.40,40.25 L76.65,40.62 L76.90,41.00 L77.15,41.38 L77.40,41.77 L77.65,42.17 L77.90,42.58 L78.15,42.99 L78.40,43.41 L78.65,43.83 L78.90,44.26 L79.15,44.69 L79.40,45.13 L79.65,45.57 L79.90,46.02 L80.15,46.47 L80.40,46.92 L80.65,47.38 L80.90,47.84 L81.15,48.29 L81.40,48.76 L81.65,49.22 L81.90,49.68 L82.15,50.15 L82.40,50.61 L82.65,51.08 L82.90,51.55 L83.15,52.02 L83.40,52.48 L83.65,52.95 L83.90,53.42 L84.15,53.89 L84.40,54.36 L84.65,54.84 L84.90,55.31 L85.15,55.78 L85.40,56.25 L85.65,56.72 L85.90,57.19 L86.15,57.66 L86.40,58.14 L86.65,58.62 L86.90,59.10 L87.15,59.58 L87.40,60.07 L87.65,60.57 L87.90,61.07 L88.15,61.57 L88.40,62.09 L88.65,62.61 L88.90,63.14 L89.15,63.68 L89.40,64.23 L89.65,64.79 L89.90,65.35 L90.15,65.92 L90.40,66.50 L90.65,67.07 L90.90,67.66 L91.15,68.24 L91.40,68.83 L91.65,69.42 L91.90,70.02 L92.15,70.61 L92.40,71.20 L92.65,71.79 L92.90,72.39 L93.15,72.98 L93.40,73.58 L93.65,74.17 L93.90,74.76 L94.15,75.36 L94.40,75.95 L94.65,76.54 L94.90,77.14 L95.15,77.73 L95.40,78.32 L95.65,78.92 L95.90,79.51 L96.15,80.10 L96.40,80.69 L96.65,81.28 L96.90,81.87 L97.15,82.45 L97.40,83.03 L97.65,83.60 L97.90,84.17 L98.15,84.73 L98.40,85.28 L98.65,85.83 L98.90,86.36 L99.15,86.89 L99.40,87.40 L99.65,87.91 L99.90,88.41 L100.15,88.91 L100.40,89.40 L100.65,89.88 L100.90,90.36 L101.15,90.84 L101.40,91.31 L101.65,91.79 L101.90,92.26 L102.15,92.73 L102.40,93.21 L102.65,93.67 L102.90,94.14 L103.15,94.61 L103.40,95.07 L103.65,95.53 L103.90,95.99 L104.15,96.44 L104.40,96.89 L104.65,97.33 L104.90,97.77 L105.15,98.21 L105.40,98.64 L105.65,99.07 L105.90,99.50 L106.15,99.92 L106.40,100.34 L106.65,100.76 L106.90,101.18 L107.15,101.59 L107.40,102.00 L107.65,102.41 L107.90,102.82 L108.15,103.23 L108.40,103.63 L108.65,104.04 L108.90,104.44 L109.15,104.84 L109.40,105.24 L109.65,105.63 L109.90,106.02 L110.15,106.41 L110.40,106.79 L110.65,107.17 L110.90,107.54 L111.15,107.91 L111.40,108.27 L111.65,108.63 L111.90,108.97 L112.15,109.32 L112.40,109.65 L112.65,109.98 L112.90,110.30 L113.15,110.62 L113.40,110.93 L113.65,111.23 L113.90,111.53 L114.15,111.83 L114.40,112.12 L114.65,112.41 L114.90,112.69 L115.15,112.97 L115.40,113.25 L115.65,113.53 L115.90,113.80 L116.15,114.08 L116.40,114.35 L116.65,114.62 L116.90,114.89 L117.15,115.16 L117.40,115.43 L117.65,115.69 L117.90,115.96 L118.15,116.22 L118.40,116.48 L118.65,116.74 L118.90,116.99 L119.15,117.24 L119.40,117.49 L119.65,117.73 L119.90,117.97 L120.15,118.20 L120.40,118.42 L120.65,118.64 L120.90,118.85 L121.15,119.06 L121.40,119.26 L121.65,119.46 L121.90,119.66 L122.15,119.86 L122.40,120.05 L122.65,120.24 L122.90,120.43 L123.15,120.62 L123.40,120.80 L123.65,120.99 L123.90,121.18 L124.15,121.37 L124.40,121.55 L124.65,121.74 L124.90,121.93 L125.15,122.12 L125.40,122.31 L125.65,122.50 L125.90,122.69 L126.15,122.88 L126.40,123.07 L126.65,123.26 L126.90,123.45 L127.15,123.64 L127.40,123.83 L127.65,124.02 L127.90,124.21 L128.15,124.40 L128.40,124.59 L128.65,124.78 L128.90,124.96 L129.15,125.15 L129.40,125.33 L129.65,125.50 L129.90,125.68 L130.15,125.85 L130.40,126.01 L130.65,126.17 L130.90,126.33 L131.15,126.48 L131.40,126.63 L131.65,126.76 L131.90,126.90 L132.15,127.03 L132.40,127.15 L132.65,127.28 L132.90,127.39 L133.15,127.51 L133.40,127.62 L133.65,127.73 L133.90,127.84 L134.15,127.94 L134.40,128.05 L134.65,128.16 L134.90,128.26 L135.15,128.37 L135.40,128.47 L135.65,128.57 L135.90,128.68 L136.15,128.78 L136.40,128.89 L136.65,128.99 L136.90,129.09 L137.15,129.20 L137.40,129.30 L137.65,129.40 L137.90,129.50 L138.15,129.60 L138.40,129.69 L138.65,129.79 L138.90,129.89 L139.15,129.98 L139.40,130.07 L139.65,130.16 L139.90,130.25 L140.15,130.34 L140.40,130.43 L140.65,130.52 L140.90,130.60 L141.15,130.69 L141.40,130.77 L141.65,130.86 L141.90,130.95 L142.15,131.03 L142.40,131.12 L142.65,131.20 L142.90,131.29 L143.15,131.37 L143.40,131.46 L143.65,131.54 L143.90,131.63 L144.15,131.71 L144.40,131.80 L144.65,131.88 L144.90,131.97 L145.15,132.05 L145.40,132.14 L145.65,132.22 L145.90,132.31 L146.15,132.39 L146.40,132.48 L146.65,132.56 L146.90,132.65 L147.15,132.73 L147.40,132.82 L147.65,132.90 L147.90,132.99 L148.15,133.07 L148.40,133.16 L148.65,133.24 L148.90,133.33 L149.15,133.41 L149.40,133.50 L149.65,133.59 L149.90,133.68 L150.15,133.76 L150.40,133.85 L150.65,133.94 L150.90,134.04 L151.15,134.13 L151.40,134.22 L151.65,134.31 L151.90,134.41 L152.15,134.51 L152.40,134.60 L152.65,134.70 L152.90,134.79 L153.15,134.89 L153.40,134.99 L153.65,135.08 L153.90,135.18 L154.15,135.27 L154.40,135.36 L154.65,135.46 L154.90,135.55 L155.15,135.64 L155.40,135.72 L155.65,135.81 L155.90,135.90 L156.15,135.98 L156.40,136.06 L156.65,136.15 L156.90,136.23 L157.15,136.31 L157.40,136.38 L157.65,136.46 L157.90,136.54 L158.15,136.61 L158.40,136.69 L158.65,136.76 L158.90,136.84 L159.15,136.91 L159.40,136.99 L159.65,137.06 L159.90,137.13 L160.15,137.21 L160.40,137.28 L160.65,137.36 L160.90,137.43 L161.15,137.51 L161.40,137.59 L161.65,137.66 L161.90,137.74 L162.15,137.82 L162.40,137.90 L162.65,137.98 L162.90,138.06 L163.15,138.15 L163.40,138.23 L163.65,138.32 L163.90,138.41 L164.15,138.50 L164.40,138.59 L164.65,138.68 L164.90,138.77 L165.15,138.87 L165.40,138.97 L165.65,139.06 L165.90,139.16 L166.15,139.26 L166.40,139.35 L166.65,139.45 L166.90,139.55 L167.15,139.65 L167.40,139.75 L167.65,139.85 L167.90,139.95 L168.15,140.05 L168.40,140.15 L168.65,140.25 L168.90,140.35 L169.15,140.45 L169.40,140.55 L169.65,140.65 L169.90,140.75 L170.15,140.85 L170.40,140.95 L170.65,141.05 L170.90,141.16 L171.15,141.26 L171.40,141.36 L171.65,141.46 L171.90,141.56 L172.15,141.66 L172.40,141.77 L172.65,141.87 L172.90,141.97 L173.15,142.07 L173.40,142.17 L173.65,142.28 L173.90,142.38 L174.15,142.48 L174.40,142.58 L174.65,142.69 L174.90,142.79 L175.15,142.89 L175.40,143.00 L175.65,143.10 L175.90,143.20 L176.15,143.31 L176.40,143.41 L176.65,143.51 L176.90,143.62 L177.15,143.72 L177.40,143.82 L177.65,143.93 L177.90,144.03 L178.15,144.13 L178.40,144.24 L178.65,144.34 L178.90,144.45 L179.15,144.55 L179.40,144.66 L179.65,144.76 L179.90,144.86 L180.15,144.97 L180.40,145.07 L180.65,145.18 L180.90,145.28 L181.15,145.39 L181.40,145.49 L181.65,145.60 L181.90,145.70 L182.15,145.80 L182.40,145.91 L182.65,146.01 L182.90,146.12 L183.15,146.22 L183.40,146.33 L183.65,146.43 L183.90,146.54 L184.15,146.64 L184.40,146.75 L184.65,146.85 L184.90,146.96 L185.15,147.06 L185.40,147.17 L185.65,147.28 L185.90,147.38 L186.15,147.49 L186.40,147.59 L186.65,147.70 L186.90,147.81 L187.15,147.91 L187.40,148.02 L187.65,148.13 L187.90,148.23 L188.15,148.34 L188.40,148.45 L188.65,148.56 L188.90,148.66 L189.15,148.77 L189.40,148.88 L189.65,148.99 L189.90,149.09 L190.15,149.20 L190.40,149.31 L190.65,149.42 L190.90,149.53 L191.15,149.63 L191.40,149.74 L191.65,149.85 L191.90,149.96 L192.15,150.07 L192.40,150.18 L192.65,150.29 L192.90,150.39 L193.15,150.50 L193.40,150.61 L193.65,150.72 L193.90,150.83 L194.15,150.94 L194.40,151.04 L194.65,151.15 L194.90,151.26 L195.15,151.37 L195.40,151.48 L195.65,151.59 L195.90,151.69 L196.15,151.80 L196.40,151.91 L196.65,152.02 L196.90,152.12 L197.15,152.23 L197.40,152.34 L197.65,152.45 L197.90,152.55 L198.15,152.66 L198.40,152.77 L198.65,152.87 L198.90,152.98 L199.15,153.08 L199.40,153.19 L199.65,153.30 L199.90,153.40 L200.15,153.51 L200.40,153.61 L200.65,153.72 L200.90,153.82 L201.15,153.93 L201.40,154.03 L201.65,154.13 L201.90,154.24 L202.15,154.34 L202.40,154.44 L202.65,154.55 L202.90,154.65 L203.15,154.75 L203.40,154.85 L203.65,154.95 L203.90,155.05 L204.15,155.16 L204.40,155.26 L204.65,155.36 L204.90,155.46 L205.15,155.56 L205.40,155.65 L205.65,155.75 L205.90,155.85 L206.15,155.95 L206.40,156.05 L206.65,156.15 L206.90,156.24 L207.15,156.34 L207.40,156.44 L207.65,156.53 L207.90,156.63 L208.15,156.72 L208.40,156.82 L208.65,156.92 L208.90,157.01 L209.15,157.11 L209.40,157.20 L209.65,157.30 L209.90,157.39 L210.15,157.48 L210.40,157.58 L210.65,157.67 L210.90,157.77 L211.15,157.86 L211.40,157.95 L211.65,158.05 L211.90,158.14 L212.15,158.23 L212.40,158.33 L212.65,158.42 L212.90,158.52 L213.15,158.61 L213.40,158.70 L213.65,158.80 L213.90,158.89 L214.15,158.98 L214.40,159.08 L214.65,159.17 L214.90,159.26 L215.15,159.36 L215.40,159.45 L215.65,159.54 L215.90,159.64 L216.15,159.73 L216.40,159.82 L216.65,159.92 L216.90,160.01 L217.15,160.11 L217.40,160.20 L217.65,160.29 L217.90,160.39 L218.15,160.48 L218.40,160.57 L218.65,160.67 L218.90,160.76 L219.15,160.85 L219.40,160.95 L219.65,161.04 L219.90,161.13 L221.40,161.69 L223.40,162.42 L225.40,163.13 L227.40,163.81 L229.40,164.47 L231.40,165.15 L233.40,165.86 L235.40,166.60 L237.40,167.35 L239.40,168.09 L241.40,168.81 L243.40,169.49 L245.40,170.12 L247.40,170.72 L249.40,171.32 L251.40,171.92 L253.40,172.52 L255.40,173.12 L257.40,173.72 L259.40,174.32 L261.40,174.92 L263.40,175.52 L265.40,176.12 L267.40,176.72 L269.40,177.32 L271.40,177.92 L273.40,178.52 L275.40,179.12 L277.40,179.69 L279.40,180.25 L281.40,180.78 L283.40,181.29 L285.40,181.78 L287.40,182.26 L289.40,182.73 L291.40,183.19 L293.40,183.64 L295.40,184.09 L297.40,184.53 L299.40,184.96 L301.40,185.39 L303.40,185.80 L305.40,186.20 L307.40,186.60 L309.40,186.98 L311.40,187.35 L313.40,187.71 L315.40,188.07 L317.40,188.41 L319.40,188.74 L321.40,189.07 L323.40,189.38 L325.40,189.68 L327.40,189.97 L329.40,190.26 L331.40,190.53 L333.40,190.79 L335.40,191.05 L337.40,191.29 L339.40,191.53 L341.40,191.76 L343.40,191.97 L345.40,192.18 L347.40,192.38 L349.40,192.56 L351.40,192.73 L353.40,192.88 L355.40,193.03 L357.40,193.16 L359.40,193.29 L361.40,193.41 L363.40,193.53 L365.40,193.65 L367.40,193.75 L369.40,193.85 L371.40,193.95 L373.40,194.04 L375.40,194.12 L377.40,194.19 L379.40,194.26 L381.40,194.31 L383.40,194.36 L385.40,194.41 L387.40,194.45 L389.40,194.48 L391.40,194.52 L393.40,194.55 L395.40,194.59 L397.40,194.62 L399.40,194.65 L401.40,194.67 L403.40,194.70 L405.40,194.72 L407.40,194.74 L409.40,194.76 L411.40,194.77 L413.40,194.79 L415.40,194.79 L417.40,194.80 L419.40,194.80 L421.40,194.80 L423.40,194.80 L425.40,194.80 L427.40,194.80 L429.40,194.80 L431.40,194.80 L433.40,194.79 L435.40,194.79 L437.40,194.79 L439.40,194.78 L441.40,194.78 L443.40,194.77 L445.40,194.76 L447.40,194.75 L449.40,194.73 L451.40,194.71 L453.40,194.69 L455.40,194.67 L457.40,194.64 L459.40,194.61 L461.40,194.58 L463.40,194.54 L465.40,194.51 L467.40,194.47 L469.40,194.44 L471.40,194.40 L473.40,194.37 L475.40,194.33 L477.40,194.30 L479.40,194.26 L481.40,194.22 L483.40,194.19 L485.40,194.15 L487.40,194.12 L489.40,194.08 L491.40,194.05 L493.40,194.01 L495.40,193.98 L497.40,193.94 L499.40,193.91 L501.40,193.88 L503.40,193.84 L505.40,193.81 L507.40,193.77 L509.40,193.74 L511.40,193.70 L513.40,193.67 L515.40,193.64 L517.40,193.60 L519.40,193.57 L521.40,193.53 L523.40,193.50 L525.40,193.47 L527.40,193.43 L529.40,193.40 L531.40,193.36 L533.40,193.33 L535.40,193.30 L537.40,193.26 L539.40,193.23 L541.05,193.20" fill="none" stroke="#1f77b4" stroke-width="2.5" stroke-linejoin="round"/>
<path d="M57.40,76.36 L57.65,75.12 L57.90,73.91 L58.15,72.75 L58.40,71.64 L58.65,70.58 L58.90,69.58 L59.15,68.65 L59.40,67.78 L59.65,66.98 L59.90,66.26 L60.15,65.61 L60.40,65.05 L60.65,64.58 L60.90,64.20 L61.15,63.92 L61.40,63.73 L61.65,63.64 L61.90,63.66 L62.15,63.77 L62.40,63.98 L62.65,64.28 L62.90,64.68 L63.15,65.17 L63.40,65.75 L63.65,66.42 L63.90,67.16 L64.15,68.00 L64.40,68.91 L64.65,69.91 L64.90,70.99 L65.15,72.15 L65.40,73.40 L65.65,74.72 L65.90,76.12 L66.15,77.60 L66.40,79.14 L66.65,80.75 L66.90,82.43 L67.15,84.16 L67.40,85.95 L67.65,87.79 L67.90,89.67 L68.15,91.60 L68.40,93.57 L68.65,95.58 L68.90,97.64 L69.15,99.74 L69.40,101.89 L69.65,104.09 L69.90,106.34 L70.15,108.66 L70.40,111.03 L70.65,113.46 L70.90,115.95 L71.15,118.51 L71.40,121.13 L71.65,123.79 L71.90,126.49 L72.15,129.23 L72.40,131.97 L72.65,134.72 L72.90,137.45 L73.15,140.16 L73.40,142.84 L73.65,145.50 L73.90,148.13 L74.15,150.77 L74.40,153.41 L74.65,156.09 L74.90,158.82 L75.15,161.62 L75.40,164.49 L75.65,167.42 L75.90,170.41 L76.15,173.43 L76.40,176.46 L76.65,179.47 L76.90,182.43 L77.15,185.31 L77.40,188.11 L77.65,190.81 L77.90,193.42 L78.15,195.93 L78.40,198.36 L78.65,200.72 L78.90,203.03 L79.15,205.29 L79.40,207.52 L79.65,209.74 L79.90,211.94 L80.15,214.15 L80.40,216.36 L80.65,218.58 L80.90,220.82 L81.15,223.08 L81.40,225.36 L81.65,227.68 L81.90,230.02 L82.15,232.39 L82.40,234.80 L82.65,237.24 L82.90,239.72 L83.15,242.23 L83.40,244.75 L83.65,247.28 L83.90,249.81 L84.15,252.32 L84.40,254.78 L84.65,257.18 L84.90,259.51 L85.15,261.74 L85.40,263.87 L85.65,265.88 L85.90,267.77 L86.15,269.54 L86.40,271.19 L86.65,272.72 L86.90,274.14 L87.15,275.46 L87.40,276.67 L87.65,277.80 L87.90,278.84 L88.15,279.81 L88.40,280.71 L88.65,281.55 L88.90,282.34 L89.15,283.07 L89.40,283.75 L89.65,284.39 L89.90,284.98 L90.15,285.54 L90.40,286.05 L90.65,286.53 L90.90,286.97 L91.15,287.38 L91.40,287.76 L91.65,288.11 L91.90,288.43 L92.15,288.72 L92.40,288.98 L92.65,289.21 L92.90,289.41 L93.15,289.57 L93.40,289.70 L93.65,289.80 L93.90,289.86 L94.15,289.89 L94.40,289.87 L94.65,289.83 L94.90,289.74 L95.15,289.63 L95.40,289.48 L95.65,289.30 L95.90,289.09 L96.15,288.85 L96.40,288.58 L96.65,288.28 L96.90,287.96 L97.15,287.61 L97.40,287.24 L97.65,286.83 L97.90,286.40 L98.15,285.95 L98.40,285.46 L98.65,284.94 L98.90,284.39 L99.15,283.81 L99.40,283.19 L99.65,282.54 L99.90,281.86 L100.15,281.14 L100.40,280.40 L100.65,279.63 L100.90,278.84 L101.15,278.03 L101.40,277.21 L101.65,276.38 L101.90,275.54 L102.15,274.69 L102.40,273.84 L102.65,272.99 L102.90,272.13 L103.15,271.28 L103.40,270.43 L103.65,269.58 L103.90,268.73 L104.15,267.89 L104.40,267.05 L104.65,266.22 L104.90,265.38 L105.15,264.56 L105.40,263.73 L105.65,262.91 L105.90,262.09 L106.15,261.28 L106.40,260.46 L106.65,259.65 L106.90,258.83 L107.15,258.02 L107.40,257.21 L107.65,256.39 L107.90,255.57 L108.15,254.75 L108.40,253.93 L108.65,253.09 L108.90,252.26 L109.15,251.41 L109.40,250.56 L109.65,249.69 L109.90,248.82 L110.15,247.93 L110.40,247.03 L110.65,246.11 L110.90,245.18 L111.15,244.23 L111.40,243.28 L111.65,242.31 L111.90,241.33 L112.15,240.33 L112.40,239.34 L112.65,238.33 L112.90,237.32 L113.15,236.31 L113.40,235.29 L113.65,234.27 L113.90,233.26 L114.15,232.24 L114.40,231.22 L114.65,230.20 L114.90,229.18 L115.15,228.16 L115.40,227.14 L115.65,226.13 L115.90,225.12 L116.15,224.11 L116.40,223.11 L116.65,222.12 L116.90,221.14 L117.15,220.17 L117.40,219.22 L117.65,218.28 L117.90,217.36 L118.15,216.45 L118.40,215.55 L118.65,214.68 L118.90,213.82 L119.15,212.97 L119.40,212.13 L119.65,211.30 L119.90,210.48 L120.15,209.67 L120.40,208.87 L120.65,208.06 L120.90,207.27 L121.15,206.47 L121.40,205.68 L121.65,204.89 L121.90,204.09 L122.15,203.30 L122.40,202.50 L122.65,201.70 L122.90,200.89 L123.15,200.09 L123.40,199.28 L123.65,198.47 L123.90,197.66 L124.15,196.85 L124.40,196.05 L124.65,195.25 L124.90,194.47 L125.15,193.70 L125.40,192.95 L125.65,192.22 L125.90,191.51 L126.15,190.83 L126.40,190.18 L126.65,189.55 L126.90,188.94 L127.15,188.36 L127.40,187.79 L127.65,187.24 L127.90,186.70 L128.15,186.17 L128.40,185.64 L128.65,185.12 L128.90,184.59 L129.15,184.07 L129.40,183.55 L129.65,183.03 L129.90,182.50 L130.15,181.98 L130.40,181.45 L130.65,180.93 L130.90,180.40 L131.15,179.88 L131.40,179.36 L131.65,178.84 L131.90,178.32 L132.15,177.80 L132.40,177.29 L132.65,176.78 L132.90,176.28 L133.15,175.79 L133.40,175.30 L133.65,174.82 L133.90,174.35 L134.15,173.89 L134.40,173.44 L134.65,173.00 L134.90,172.57 L135.15,172.16 L135.40,171.75 L135.65,171.35 L135.90,170.97 L136.15,170.59 L136.40,170.22 L136.65,169.87 L136.90,169.52 L137.15,169.19 L137.40,168.86 L137.65,168.54 L137.90,168.23 L138.15,167.94 L138.40,167.65 L138.65,167.37 L138.90,167.10 L139.15,166.84 L139.40,166.60 L139.65,166.36 L139.90,166.13 L140.15,165.92 L140.40,165.71 L140.65,165.51 L140.90,165.32 L141.15,165.14 L141.40,164.97 L141.65,164.81 L141.90,164.66 L142.15,164.51 L142.40,164.37 L142.65,164.24 L142.90,164.11 L143.15,163.99 L143.40,163.88 L143.65,163.77 L143.90,163.67 L144.15,163.57 L144.40,163.48 L144.65,163.39 L144.90,163.31 L145.15,163.23 L145.40,163.16 L145.65,163.10 L145.90,163.05 L146.15,163.00 L146.40,162.96 L146.65,162.93 L146.90,162.90 L147.15,162.88 L147.40,162.87 L147.65,162.87 L147.90,162.87 L148.15,162.88 L148.40,162.90 L148.65,162.92 L148.90,162.94 L149.15,162.97 L149.40,163.00 L149.65,163.04 L149.90,163.08 L150.15,163.13 L150.40,163.17 L150.65,163.22 L150.90,163.27 L151.15,163.33 L151.40,163.39 L151.65,163.45 L151.90,163.51 L152.15,163.58 L152.40,163.65 L152.65,163.72 L152.90,163.79 L153.15,163.87 L153.40,163.95 L153.65,164.03 L153.90,164.12 L154.15,164.20 L154.40,164.29 L154.65,164.38 L154.90,164.48 L155.15,164.57 L155.40,164.67 L155.65,164.76 L155.90,164.86 L156.15,164.96 L156.40,165.06 L156.65,165.16 L156.90,165.26 L157.15,165.36 L157.40,165.47 L157.65,165.58 L157.90,165.69 L158.15,165.80 L158.40,165.91 L158.65,166.03 L158.90,166.15 L159.15,166.28 L159.40,166.41 L159.65,166.54 L159.90,166.68 L160.15,166.83 L160.40,166.98 L160.65,167.13 L160.90,167.29 L161.15,167.45 L161.40,167.62 L161.65,167.80 L161.90,167.97 L162.15,168.16 L162.40,168.34 L162.65,168.53 L162.90,168.72 L163.15,168.91 L163.40,169.11 L163.65,169.30 L163.90,169.50 L164.15,169.70 L164.40,169.90 L164.65,170.10 L164.90,170.30 L165.15,170.50 L165.40,170.71 L165.65,170.91 L165.90,171.11 L166.15,171.32 L166.40,171.52 L166.65,171.73 L166.90,171.93 L167.15,172.14 L167.40,172.34 L167.65,172.55 L167.90,172.76 L168.15,172.96 L168.40,173.17 L168.65,173.38 L168.90,173.59 L169.15,173.79 L169.40,174.00 L169.65,174.21 L169.90,174.42 L170.15,174.63 L170.40,174.84 L170.65,175.05 L170.90,175.26 L171.15,175.47 L171.40,175.69 L171.65,175.90 L171.90,176.11 L172.15,176.33 L172.40,176.54 L172.65,176.76 L172.90,176.97 L173.15,177.19 L173.40,177.40 L173.65,177.62 L173.90,177.83 L174.15,178.05 L174.40,178.27 L174.65,178.48 L174.90,178.70 L175.15,178.91 L175.40,179.13 L175.65,179.34 L175.90,179.56 L176.15,179.77 L176.40,179.99 L176.65,180.20 L176.90,180.41 L177.15,180.63 L177.40,180.84 L177.65,181.05 L177.90,181.26 L178.15,181.47 L178.40,181.68 L178.65,181.88 L178.90,182.09 L179.15,182.29 L179.40,182.50 L179.65,182.70 L179.90,182.90 L180.15,183.09 L180.40,183.29 L180.65,183.48 L180.90,183.67 L181.15,183.86 L181.40,184.05 L181.65,184.23 L181.90,184.41 L182.15,184.59 L182.40,184.77 L182.65,184.94 L182.90,185.11 L183.15,185.28 L183.40,185.44 L183.65,185.60 L183.90,185.76 L184.15,185.92 L184.40,186.07 L184.65,186.23 L184.90,186.38 L185.15,186.52 L185.40,186.67 L185.65,186.81 L185.90,186.95 L186.15,187.09 L186.40,187.23 L186.65,187.36 L186.90,187.50 L187.15,187.63 L187.40,187.76 L187.65,187.88 L187.90,188.01 L188.15,188.13 L188.40,188.25 L188.65,188.37 L188.90,188.49 L189.15,188.60 L189.40,188.72 L189.65,188.83 L189.90,188.94 L190.15,189.06 L190.40,189.17 L190.65,189.28 L190.90,189.38 L191.15,189.49 L191.40,189.60 L191.65,189.71 L191.90,189.82 L192.15,189.92 L192.40,190.03 L192.65,190.14 L192.90,190.24 L193.15,190.35 L193.40,190.46 L193.65,190.56 L193.90,190.67 L194.15,190.78 L194.40,190.88 L194.65,190.99 L194.90,191.10 L195.15,191.21 L195.40,191.31 L195.65,191.42 L195.90,191.53 L196.15,191.64 L196.40,191.74 L196.65,191.85 L196.90,191.96 L197.15,192.07 L197.40,192.18 L197.65,192.29 L197.90,192.39 L198.15,192.50 L198.40,192.61 L198.65,192.72 L198.90,192.83 L199.15,192.94 L199.40,193.05 L199.65,193.16 L199.90,193.27 L200.15,193.38 L200.40,193.49 L200.65,193.60 L200.90,193.71 L201.15,193.82 L201.40,193.93 L201.65,194.04 L201.90,194.15 L202.15,194.26 L202.40,194.37 L202.65,194.48 L202.90,194.59 L203.15,194.70 L203.40,194.81 L203.65,194.91 L203.90,195.02 L204.15,195.13 L204.40,195.24 L204.65,195.34 L204.90,195.45 L205.15,195.55 L205.40,195.65 L205.65,195.75 L205.90,195.85 L206.15,195.95 L206.40,196.05 L206.65,196.14 L206.90,196.24 L207.15,196.33 L207.40,196.42 L207.65,196.51 L207.90,196.59 L208.15,196.68 L208.40,196.77 L208.65,196.85 L208.90,196.93 L209.15,197.01 L209.40,197.09 L209.65,197.17 L209.90,197.25 L210.15,197.33 L210.40,197.40 L210.65,197.48 L210.90,197.55 L211.15,197.62 L211.40,197.70 L211.65,197.77 L211.90,197.84 L212.15,197.91 L212.40,197.98 L212.65,198.05 L212.90,198.12 L213.15,198.19 L213.40,198.26 L213.65,198.33 L213.90,198.40 L214.15,198.47 L214.40,198.53 L214.65,198.60 L214.90,198.67 L215.15,198.74 L215.40,198.81 L215.65,198.87 L215.90,198.94 L216.15,199.01 L216.40,199.07 L216.65,199.14 L216.90,199.20 L217.15,199.27 L217.40,199.33 L217.65,199.39 L217.90,199.46 L218.15,199.52 L218.40,199.58 L218.65,199.64 L218.90,199.70 L219.15,199.76 L219.40,199.82 L219.65,199.88 L219.90,199.94 L221.40,200.28 L223.40,200.69 L225.40,201.07 L227.40,201.41 L229.40,201.73 L231.40,202.02 L233.40,202.30 L235.40,202.54 L237.40,202.76 L239.40,202.95 L241.40,203.10 L243.40,203.22 L245.40,203.31 L247.40,203.38 L249.40,203.45 L251.40,203.51 L253.40,203.56 L255.40,203.60 L257.40,203.64 L259.40,203.67 L261.40,203.69 L263.40,203.70 L265.40,203.71 L267.40,203.70 L269.40,203.69 L271.40,203.67 L273.40,203.63 L275.40,203.59 L277.40,203.54 L279.40,203.50 L281.40,203.45 L283.40,203.40 L285.40,203.34 L287.40,203.29 L289.40,203.22 L291.40,203.15 L293.40,203.07 L295.40,202.98 L297.40,202.89 L299.40,202.80 L301.40,202.70 L303.40,202.60 L305.40,202.51 L307.40,202.41 L309.40,202.30 L311.40,202.20 L313.40,202.09 L315.40,201.98 L317.40,201.86 L319.40,201.75 L321.40,201.64 L323.40,201.53 L325.40,201.41 L327.40,201.29 L329.40,201.17 L331.40,201.04 L333.40,200.91 L335.40,200.77 L337.40,200.63 L339.40,200.49 L341.40,200.35 L343.40,200.21 L345.40,200.07 L347.40,199.93 L349.40,199.79 L351.40,199.65 L353.40,199.51 L355.40,199.37 L357.40,199.23 L359.40,199.09 L361.40,198.95 L363.40,198.81 L365.40,198.67 L367.40,198.53 L369.40,198.39 L371.40,198.25 L373.40,198.11 L375.40,197.97 L377.40,197.83 L379.40,197.69 L381.40,197.55 L383.40,197.41 L385.40,197.27 L387.40,197.14 L389.40,197.01 L391.40,196.88 L393.40,196.77 L395.40,196.65 L397.40,196.55 L399.40,196.44 L401.40,196.35 L403.40,196.25 L405.40,196.16 L407.40,196.08 L409.40,195.99 L411.40,195.91 L413.40,195.84 L415.40,195.76 L417.40,195.69 L419.40,195.62 L421.40,195.55 L423.40,195.49 L425.40,195.42 L427.40,195.35 L429.40,195.29 L431.40,195.23 L433.40,195.17 L435.40,195.11 L437.40,195.05 L439.40,194.99 L441.40,194.93 L443.40,194.88 L445.40,194.83 L447.40,194.78 L449.40,194.73 L451.40,194.68 L453.40,194.64 L455.40,194.59 L457.40,194.55 L459.40,194.51 L461.40,194.47 L463.40,194.44 L465.40,194.40 L467.40,194.36 L469.40,194.33 L471.40,194.29 L473.40,194.25 L475.40,194.22 L477.40,194.18 L479.40,194.14 L481.40,194.11 L483.40,194.07 L485.40,194.04 L487.40,194.00 L489.40,193.97 L491.40,193.94 L493.40,193.90 L495.40,193.87 L497.40,193.84 L499.40,193.81 L501.40,193.78 L503.40,193.75 L505.40,193.72 L507.40,193.69 L509.40,193.66 L511.40,193.63 L513.40,193.60 L515.40,193.57 L517.40,193.54 L519.40,193.51 L521.40,193.48 L523.40,193.45 L525.40,193.42 L527.40,193.39 L529.40,193.36 L531.40,193.33 L533.40,193.30 L535.40,193.28 L537.40,193.25 L539.40,193.22 L541.05,193.20" fill="none" stroke="#ff7f0e" stroke-width="2.5" stroke-linejoin="round"/>
<path d="M57.40,277.02 L57.65,273.49 L57.90,269.97 L58.15,266.46 L58.40,262.97 L58.65,259.50 L58.90,256.05 L59.15,252.63 L59.40,249.24 L59.65,245.88 L59.90,242.54 L60.15,239.23 L60.40,235.93 L60.65,232.62 L60.90,229.31 L61.15,225.98 L61.40,222.61 L61.65,219.22 L61.90,215.79 L62.15,212.33 L62.40,208.84 L62.65,205.34 L62.90,201.83 L63.15,198.33 L63.40,194.85 L63.65,191.40 L63.90,187.98 L64.15,184.61 L64.40,181.29 L64.65,178.01 L64.90,174.80 L65.15,171.63 L65.40,168.53 L65.65,165.48 L65.90,162.49 L66.15,159.56 L66.40,156.69 L66.65,153.89 L66.90,151.15 L67.15,148.48 L67.40,145.88 L67.65,143.35 L67.90,140.88 L68.15,138.47 L68.40,136.12 L68.65,133.82 L68.90,131.57 L69.15,129.36 L69.40,127.20 L69.65,125.09 L69.90,123.02 L70.15,121.00 L70.40,119.03 L70.65,117.11 L70.90,115.26 L71.15,113.48 L71.40,111.77 L71.65,110.14 L71.90,108.60 L72.15,107.14 L72.40,105.77 L72.65,104.48 L72.90,103.28 L73.15,102.16 L73.40,101.11 L73.65,100.14 L73.90,99.24 L74.15,98.42 L74.40,97.66 L74.65,96.98 L74.90,96.36 L75.15,95.83 L75.40,95.37 L75.65,94.99 L75.90,94.68 L76.15,94.46 L76.40,94.32 L76.65,94.26 L76.90,94.27 L77.15,94.37 L77.40,94.53 L77.65,94.77 L77.90,95.08 L78.15,95.45 L78.40,95.88 L78.65,96.38 L78.90,96.93 L79.15,97.53 L79.40,98.19 L79.65,98.90 L79.90,99.66 L80.15,100.46 L80.40,101.32 L80.65,102.23 L80.90,103.20 L81.15,104.21 L81.40,105.29 L81.65,106.43 L81.90,107.62 L82.15,108.88 L82.40,110.19 L82.65,111.55 L82.90,112.97 L83.15,114.42 L83.40,115.92 L83.65,117.45 L83.90,119.00 L84.15,120.58 L84.40,122.17 L84.65,123.77 L84.90,125.39 L85.15,127.01 L85.40,128.64 L85.65,130.28 L85.90,131.93 L86.15,133.58 L86.40,135.25 L86.65,136.92 L86.90,138.60 L87.15,140.30 L87.40,142.01 L87.65,143.74 L87.90,145.47 L88.15,147.22 L88.40,148.98 L88.65,150.75 L88.90,152.53 L89.15,154.31 L89.40,156.10 L89.65,157.89 L89.90,159.69 L90.15,161.48 L90.40,163.28 L90.65,165.08 L90.90,166.88 L91.15,168.68 L91.40,170.48 L91.65,172.27 L91.90,174.07 L92.15,175.86 L92.40,177.65 L92.65,179.44 L92.90,181.23 L93.15,183.01 L93.40,184.78 L93.65,186.55 L93.90,188.32 L94.15,190.08 L94.40,191.84 L94.65,193.59 L94.90,195.34 L95.15,197.08 L95.40,198.83 L95.65,200.57 L95.90,202.30 L96.15,204.03 L96.40,205.75 L96.65,207.46 L96.90,209.17 L97.15,210.85 L97.40,212.52 L97.65,214.17 L97.90,215.79 L98.15,217.39 L98.40,218.95 L98.65,220.49 L98.90,222.00 L99.15,223.48 L99.40,224.93 L99.65,226.35 L99.90,227.75 L100.15,229.13 L100.40,230.50 L100.65,231.85 L100.90,233.19 L101.15,234.52 L101.40,235.84 L101.65,237.16 L101.90,238.47 L102.15,239.78 L102.40,241.08 L102.65,242.38 L102.90,243.66 L103.15,244.93 L103.40,246.18 L103.65,247.41 L103.90,248.61 L104.15,249.77 L104.40,250.90 L104.65,251.97 L104.90,253.00 L105.15,253.98 L105.40,254.91 L105.65,255.79 L105.90,256.63 L106.15,257.42 L106.40,258.18 L106.65,258.90 L106.90,259.60 L107.15,260.27 L107.40,260.93 L107.65,261.57 L107.90,262.19 L108.15,262.81 L108.40,263.42 L108.65,264.01 L108.90,264.59 L109.15,265.17 L109.40,265.73 L109.65,266.28 L109.90,266.82 L110.15,267.35 L110.40,267.86 L110.65,268.37 L110.90,268.85 L111.15,269.33 L111.40,269.79 L111.65,270.24 L111.90,270.67 L112.15,271.09 L112.40,271.49 L112.65,271.88 L112.90,272.25 L113.15,272.61 L113.40,272.95 L113.65,273.27 L113.90,273.58 L114.15,273.86 L114.40,274.13 L114.65,274.38 L114.90,274.61 L115.15,274.81 L115.40,274.99 L115.65,275.15 L115.90,275.28 L116.15,275.39 L116.40,275.47 L116.65,275.53 L116.90,275.57 L117.15,275.58 L117.40,275.58 L117.65,275.55 L117.90,275.50 L118.15,275.44 L118.40,275.36 L118.65,275.27 L118.90,275.17 L119.15,275.05 L119.40,274.93 L119.65,274.79 L119.90,274.65 L120.15,274.49 L120.40,274.33 L120.65,274.17 L120.90,273.99 L121.15,273.81 L121.40,273.63 L121.65,273.44 L121.90,273.24 L122.15,273.04 L122.40,272.84 L122.65,272.63 L122.90,272.42 L123.15,272.21 L123.40,271.99 L123.65,271.78 L123.90,271.56 L124.15,271.33 L124.40,271.11 L124.65,270.87 L124.90,270.64 L125.15,270.40 L125.40,270.15 L125.65,269.90 L125.90,269.64 L126.15,269.37 L126.40,269.10 L126.65,268.82 L126.90,268.54 L127.15,268.24 L127.40,267.95 L127.65,267.64 L127.90,267.33 L128.15,267.01 L128.40,266.69 L128.65,266.36 L128.90,266.03 L129.15,265.69 L129.40,265.34 L129.65,264.99 L129.90,264.64 L130.15,264.28 L130.40,263.91 L130.65,263.54 L130.90,263.17 L131.15,262.79 L131.40,262.40 L131.65,262.01 L131.90,261.62 L132.15,261.22 L132.40,260.82 L132.65,260.42 L132.90,260.01 L133.15,259.60 L133.40,259.19 L133.65,258.78 L133.90,258.36 L134.15,257.94 L134.40,257.52 L134.65,257.09 L134.90,256.67 L135.15,256.24 L135.40,255.81 L135.65,255.37 L135.90,254.93 L136.15,254.49 L136.40,254.05 L136.65,253.60 L136.90,253.16 L137.15,252.71 L137.40,252.25 L137.65,251.80 L137.90,251.34 L138.15,250.88 L138.40,250.42 L138.65,249.96 L138.90,249.49 L139.15,249.03 L139.40,248.55 L139.65,248.08 L139.90,247.60 L140.15,247.12 L140.40,246.64 L140.65,246.16 L140.90,245.67 L141.15,245.18 L141.40,244.68 L141.65,244.19 L141.90,243.69 L142.15,243.19 L142.40,242.70 L142.65,242.20 L142.90,241.70 L143.15,241.20 L143.40,240.70 L143.65,240.20 L143.90,239.70 L144.15,239.20 L144.40,238.70 L144.65,238.20 L144.90,237.70 L145.15,237.20 L145.40,236.70 L145.65,236.20 L145.90,235.70 L146.15,235.20 L146.40,234.70 L146.65,234.20 L146.90,233.70 L147.15,233.20 L147.40,232.70 L147.65,232.20 L147.90,231.71 L148.15,231.21 L148.40,230.71 L148.65,230.22 L148.90,229.73 L149.15,229.25 L149.40,228.76 L149.65,228.29 L149.90,227.82 L150.15,227.36 L150.40,226.90 L150.65,226.45 L150.90,226.01 L151.15,225.57 L151.40,225.14 L151.65,224.72 L151.90,224.31 L152.15,223.89 L152.40,223.49 L152.65,223.08 L152.90,222.69 L153.15,222.29 L153.40,221.89 L153.65,221.50 L153.90,221.12 L154.15,220.73 L154.40,220.35 L154.65,219.96 L154.90,219.59 L155.15,219.21 L155.40,218.83 L155.65,218.46 L155.90,218.09 L156.15,217.73 L156.40,217.36 L156.65,217.00 L156.90,216.64 L157.15,216.28 L157.40,215.92 L157.65,215.57 L157.90,215.21 L158.15,214.86 L158.40,214.51 L158.65,214.17 L158.90,213.82 L159.15,213.48 L159.40,213.14 L159.65,212.80 L159.90,212.46 L160.15,212.13 L160.40,211.80 L160.65,211.47 L160.90,211.15 L161.15,210.82 L161.40,210.51 L161.65,210.19 L161.90,209.88 L162.15,209.57 L162.40,209.26 L162.65,208.96 L162.90,208.66 L163.15,208.37 L163.40,208.07 L163.65,207.79 L163.90,207.50 L164.15,207.22 L164.40,206.94 L164.65,206.66 L164.90,206.39 L165.15,206.12 L165.40,205.86 L165.65,205.60 L165.90,205.34 L166.15,205.08 L166.40,204.83 L166.65,204.58 L166.90,204.34 L167.15,204.10 L167.40,203.86 L167.65,203.63 L167.90,203.40 L168.15,203.17 L168.40,202.95 L168.65,202.73 L168.90,202.51 L169.15,202.30 L169.40,202.10 L169.65,201.90 L169.90,201.70 L170.15,201.51 L170.40,201.32 L170.65,201.13 L170.90,200.95 L171.15,200.78 L171.40,200.61 L171.65,200.44 L171.90,200.28 L172.15,200.12 L172.40,199.97 L172.65,199.82 L172.90,199.67 L173.15,199.53 L173.40,199.40 L173.65,199.27 L173.90,199.14 L174.15,199.02 L174.40,198.90 L174.65,198.79 L174.90,198.68 L175.15,198.57 L175.40,198.47 L175.65,198.37 L175.90,198.27 L176.15,198.17 L176.40,198.08 L176.65,197.99 L176.90,197.90 L177.15,197.81 L177.40,197.72 L177.65,197.64 L177.90,197.56 L178.15,197.47 L178.40,197.40 L178.65,197.32 L178.90,197.24 L179.15,197.17 L179.40,197.10 L179.65,197.03 L179.90,196.96 L180.15,196.89 L180.40,196.83 L180.65,196.77 L180.90,196.71 L181.15,196.65 L181.40,196.59 L181.65,196.54 L181.90,196.49 L182.15,196.44 L182.40,196.39 L182.65,196.34 L182.90,196.30 L183.15,196.26 L183.40,196.22 L183.65,196.18 L183.90,196.15 L184.15,196.11 L184.40,196.08 L184.65,196.05 L184.90,196.02 L185.15,196.00 L185.40,195.97 L185.65,195.95 L185.90,195.92 L186.15,195.90 L186.40,195.88 L186.65,195.85 L186.90,195.83 L187.15,195.81 L187.40,195.79 L187.65,195.77 L187.90,195.75 L188.15,195.73 L188.40,195.71 L188.65,195.69 L188.90,195.68 L189.15,195.66 L189.40,195.64 L189.65,195.63 L189.90,195.61 L190.15,195.60 L190.40,195.59 L190.65,195.58 L190.90,195.57 L191.15,195.56 L191.40,195.55 L191.65,195.55 L191.90,195.54 L192.15,195.54 L192.40,195.54 L192.65,195.54 L192.90,195.54 L193.15,195.54 L193.40,195.55 L193.65,195.55 L193.90,195.56 L194.15,195.57 L194.40,195.58 L194.65,195.59 L194.90,195.61 L195.15,195.62 L195.40,195.64 L195.65,195.65 L195.90,195.67 L196.15,195.69 L196.40,195.71 L196.65,195.72 L196.90,195.74 L197.15,195.76 L197.40,195.78 L197.65,195.80 L197.90,195.82 L198.15,195.84 L198.40,195.86 L198.65,195.88 L198.90,195.90 L199.15,195.92 L199.40,195.94 L199.65,195.97 L199.90,195.99 L200.15,196.01 L200.40,196.03 L200.65,196.05 L200.90,196.08 L201.15,196.10 L201.40,196.12 L201.65,196.15 L201.90,196.17 L202.15,196.20 L202.40,196.22 L202.65,196.25 L202.90,196.27 L203.15,196.30 L203.40,196.32 L203.65,196.35 L203.90,196.38 L204.15,196.41 L204.40,196.43 L204.65,196.46 L204.90,196.49 L205.15,196.52 L205.40,196.55 L205.65,196.58 L205.90,196.61 L206.15,196.64 L206.40,196.67 L206.65,196.70 L206.90,196.73 L207.15,196.76 L207.40,196.79 L207.65,196.82 L207.90,196.85 L208.15,196.88 L208.40,196.92 L208.65,196.95 L208.90,196.98 L209.15,197.01 L209.40,197.04 L209.65,197.07 L209.90,197.10 L210.15,197.14 L210.40,197.17 L210.65,197.20 L210.90,197.23 L211.15,197.26 L211.40,197.29 L211.65,197.33 L211.90,197.36 L212.15,197.39 L212.40,197.42 L212.65,197.46 L212.90,197.49 L213.15,197.52 L213.40,197.55 L213.65,197.58 L213.90,197.62 L214.15,197.65 L214.40,197.68 L214.65,197.71 L214.90,197.75 L215.15,197.78 L215.40,197.81 L215.65,197.84 L215.90,197.87 L216.15,197.91 L216.40,197.94 L216.65,197.97 L216.90,198.00 L217.15,198.03 L217.40,198.07 L217.65,198.10 L217.90,198.13 L218.15,198.16 L218.40,198.19 L218.65,198.23 L218.90,198.26 L219.15,198.29 L219.40,198.32 L219.65,198.35 L219.90,198.38 L221.40,198.57 L223.40,198.81 L225.40,199.04 L227.40,199.27 L229.40,199.49 L231.40,199.70 L233.40,199.91 L235.40,200.10 L237.40,200.29 L239.40,200.46 L241.40,200.63 L243.40,200.78 L245.40,200.93 L247.40,201.05 L249.40,201.17 L251.40,201.27 L253.40,201.36 L255.40,201.44 L257.40,201.51 L259.40,201.56 L261.40,201.60 L263.40,201.64 L265.40,201.65 L267.40,201.66 L269.40,201.66 L271.40,201.65 L273.40,201.62 L275.40,201.59 L277.40,201.55 L279.40,201.51 L281.40,201.47 L283.40,201.42 L285.40,201.36 L287.40,201.30 L289.40,201.23 L291.40,201.16 L293.40,201.07 L295.40,200.98 L297.40,200.88 L299.40,200.79 L301.40,200.69 L303.40,200.59 L305.40,200.50 L307.40,200.40 L309.40,200.30 L311.40,200.19 L313.40,200.09 L315.40,199.98 L317.40,199.87 L319.40,199.76 L321.40,199.65 L323.40,199.54 L325.40,199.43 L327.40,199.32 L329.40,199.21 L331.40,199.10 L333.40,198.99 L335.40,198.88 L337.40,198.77 L339.40,198.66 L341.40,198.55 L343.40,198.44 L345.40,198.33 L347.40,198.22 L349.40,198.11 L351.40,198.00 L353.40,197.89 L355.40,197.78 L357.40,197.67 L359.40,197.56 L361.40,197.46 L363.40,197.35 L365.40,197.25 L367.40,197.15 L369.40,197.05 L371.40,196.95 L373.40,196.85 L375.40,196.75 L377.40,196.66 L379.40,196.56 L381.40,196.47 L383.40,196.37 L385.40,196.28 L387.40,196.19 L389.40,196.11 L391.40,196.02 L393.40,195.94 L395.40,195.86 L397.40,195.78 L399.40,195.71 L401.40,195.64 L403.40,195.57 L405.40,195.51 L407.40,195.44 L409.40,195.38 L411.40,195.32 L413.40,195.27 L415.40,195.21 L417.40,195.16 L419.40,195.11 L421.40,195.07 L423.40,195.02 L425.40,194.98 L427.40,194.93 L429.40,194.89 L431.40,194.84 L433.40,194.80 L435.40,194.76 L437.40,194.72 L439.40,194.67 L441.40,194.63 L443.40,194.59 L445.40,194.56 L447.40,194.52 L449.40,194.48 L451.40,194.45 L453.40,194.41 L455.40,194.38 L457.40,194.34 L459.40,194.31 L461.40,194.28 L463.40,194.25 L465.40,194.21 L467.40,194.18 L469.40,194.15 L471.40,194.12 L473.40,194.09 L475.40,194.06 L477.40,194.03 L479.40,194.00 L481.40,193.97 L483.40,193.94 L485.40,193.91 L487.40,193.88 L489.40,193.85 L491.40,193.82 L493.40,193.79 L495.40,193.76 L497.40,193.73 L499.40,193.71 L501.40,193.68 L503.40,193.66 L505.40,193.63 L507.40,193.60 L509.40,193.58 L511.40,193.55 L513.40,193.53 L515.40,193.50 L517.40,193.48 L519.40,193.45 L521.40,193.43 L523.40,193.40 L525.40,193.38 L527.40,193.35 L529.40,193.33 L531.40,193.31 L533.40,193.28 L535.40,193.26 L537.40,193.24 L539.40,193.22 L541.05,193.20" fill="none" stroke="#2ca02c" stroke-width="2.5" stroke-linejoin="round"/>
</g>
<rect x="57.4" y="3.5" width="483.65" height="320.7" fill="none" stroke="#1c1614" stroke-width="1.3"/>
<line x1="57.40" y1="324.2" x2="57.40" y2="329.5" stroke="#1c1614" stroke-width="1.3"/>
<text x="57.40" y="347" text-anchor="middle" class="t">0</text>
<line x1="154.13" y1="324.2" x2="154.13" y2="329.5" stroke="#1c1614" stroke-width="1.3"/>
<text x="154.13" y="347" text-anchor="middle" class="t">1</text>
<line x1="250.86" y1="324.2" x2="250.86" y2="329.5" stroke="#1c1614" stroke-width="1.3"/>
<text x="250.86" y="347" text-anchor="middle" class="t">2</text>
<line x1="347.59" y1="324.2" x2="347.59" y2="329.5" stroke="#1c1614" stroke-width="1.3"/>
<text x="347.59" y="347" text-anchor="middle" class="t">3</text>
<line x1="444.32" y1="324.2" x2="444.32" y2="329.5" stroke="#1c1614" stroke-width="1.3"/>
<text x="444.32" y="347" text-anchor="middle" class="t">4</text>
<line x1="541.05" y1="324.2" x2="541.05" y2="329.5" stroke="#1c1614" stroke-width="1.3"/>
<text x="541.05" y="347" text-anchor="middle" class="t">5</text>
<line x1="52.1" y1="26.45" x2="57.4" y2="26.45" stroke="#1c1614" stroke-width="1.3"/>
<text x="47.5" y="33.25" text-anchor="end" class="t">10.0</text>
<line x1="52.1" y1="68.15" x2="57.4" y2="68.15" stroke="#1c1614" stroke-width="1.3"/>
<text x="47.5" y="74.95" text-anchor="end" class="t">7.5</text>
<line x1="52.1" y1="109.85" x2="57.4" y2="109.85" stroke="#1c1614" stroke-width="1.3"/>
<text x="47.5" y="116.65" text-anchor="end" class="t">5.0</text>
<line x1="52.1" y1="151.55" x2="57.4" y2="151.55" stroke="#1c1614" stroke-width="1.3"/>
<text x="47.5" y="158.35" text-anchor="end" class="t">2.5</text>
<line x1="52.1" y1="193.25" x2="57.4" y2="193.25" stroke="#1c1614" stroke-width="1.3"/>
<text x="47.5" y="200.05" text-anchor="end" class="t">0.0</text>
<line x1="52.1" y1="234.95" x2="57.4" y2="234.95" stroke="#1c1614" stroke-width="1.3"/>
<text x="47.5" y="241.75" text-anchor="end" class="t">−2.5</text>
<line x1="52.1" y1="276.65" x2="57.4" y2="276.65" stroke="#1c1614" stroke-width="1.3"/>
<text x="47.5" y="283.45" text-anchor="end" class="t">−5.0</text>
<line x1="52.1" y1="318.35" x2="57.4" y2="318.35" stroke="#1c1614" stroke-width="1.3"/>
<text x="47.5" y="325.15" text-anchor="end" class="t">−7.5</text>
<text x="299.22" y="370" text-anchor="middle" class="t" textLength="41.9" lengthAdjust="spacingAndGlyphs">Time</text>
<rect x="451.6" y="12.4" width="80.29999999999995" height="81.89999999999999" rx="3.5" ry="3.5" fill="#fff" fill-opacity="0.8" stroke="#dcdcdc" stroke-width="1.3"/>
<line x1="457" y1="26.2" x2="493.8" y2="26.2" stroke="#1f77b4" stroke-width="2.5"/>
<text x="506.4" y="32.2" class="t i">x<tspan class="s" dy="3.2" dx="0.8">1</tspan></text>
<line x1="457" y1="51.8" x2="493.8" y2="51.8" stroke="#ff7f0e" stroke-width="2.5"/>
<text x="506.4" y="57.8" class="t i">x<tspan class="s" dy="3.2" dx="0.8">2</tspan></text>
<line x1="457" y1="77.5" x2="493.8" y2="77.5" stroke="#2ca02c" stroke-width="2.5"/>
<text x="506.4" y="83.5" class="t i">x<tspan class="s" dy="3.2" dx="0.8">3</tspan></text>
</svg>
</body></html>
